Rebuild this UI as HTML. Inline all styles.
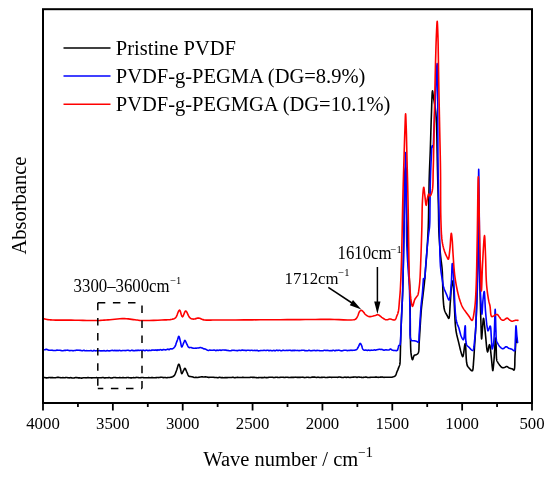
<!DOCTYPE html>
<html><head><meta charset="utf-8"><style>
html,body{margin:0;padding:0;background:#fff;}
svg{display:block;will-change:transform;}
text{font-family:"Liberation Serif",serif;fill:#000;}
</style></head><body>
<svg width="550" height="479" viewBox="0 0 550 479">
<rect x="0" y="0" width="550" height="479" fill="#fff"/>
<g fill="none" stroke-linejoin="round" stroke-linecap="round" stroke-width="1.6">
<polyline stroke="#000" points="43.00,377.70 43.08,377.68 43.29,377.64 43.58,377.59 43.92,377.55 44.25,377.51 44.55,377.51 44.80,377.54 45.06,377.60 45.32,377.67 45.57,377.75 45.83,377.81 46.09,377.86 46.35,377.87 46.61,377.88 46.86,377.87 47.12,377.85 47.38,377.83 47.64,377.80 47.89,377.77 48.15,377.72 48.41,377.66 48.67,377.61 48.92,377.57 49.18,377.54 49.44,377.54 49.70,377.56 49.95,377.58 50.21,377.61 50.47,377.64 50.73,377.65 50.98,377.65 51.24,377.65 51.50,377.64 51.76,377.63 52.02,377.62 52.27,377.62 52.53,377.63 52.79,377.64 53.05,377.66 53.30,377.68 53.56,377.70 53.82,377.71 54.08,377.73 54.33,377.75 54.59,377.77 54.85,377.78 55.11,377.79 55.36,377.77 55.62,377.73 55.88,377.67 56.14,377.60 56.39,377.53 56.65,377.46 56.91,377.42 57.17,377.39 57.42,377.37 57.68,377.36 57.94,377.36 58.20,377.36 58.45,377.37 58.71,377.40 58.97,377.43 59.23,377.47 59.49,377.52 59.74,377.56 60.00,377.60 60.26,377.64 60.51,377.68 60.77,377.72 61.03,377.76 61.28,377.78 61.54,377.79 61.79,377.78 62.05,377.75 62.31,377.70 62.56,377.66 62.82,377.63 63.08,377.61 63.33,377.63 63.59,377.67 63.85,377.72 64.10,377.76 64.36,377.80 64.62,377.80 64.87,377.77 65.13,377.70 65.38,377.62 65.64,377.54 65.90,377.47 66.15,377.44 66.41,377.45 66.67,377.48 66.92,377.53 67.18,377.59 67.44,377.65 67.69,377.69 67.95,377.72 68.20,377.76 68.46,377.80 68.72,377.83 68.97,377.85 69.23,377.85 69.49,377.83 69.74,377.78 70.00,377.72 70.26,377.67 70.51,377.63 70.77,377.63 71.03,377.66 71.28,377.72 71.54,377.80 71.79,377.89 72.05,377.96 72.31,378.01 72.56,378.03 72.82,378.05 73.08,378.06 73.33,378.05 73.59,378.04 73.85,378.01 74.10,377.96 74.36,377.89 74.62,377.80 74.87,377.72 75.13,377.64 75.38,377.60 75.64,377.57 75.90,377.56 76.15,377.56 76.41,377.58 76.67,377.59 76.92,377.62 77.18,377.65 77.44,377.70 77.69,377.76 77.95,377.81 78.20,377.86 78.46,377.90 78.72,377.91 78.97,377.91 79.23,377.90 79.49,377.89 79.74,377.89 80.00,377.90 80.26,377.93 80.51,377.97 80.77,378.02 81.03,378.07 81.28,378.10 81.54,378.11 81.80,378.09 82.05,378.05 82.31,377.99 82.56,377.92 82.82,377.87 83.08,377.83 83.33,377.80 83.59,377.77 83.85,377.76 84.10,377.74 84.36,377.74 84.62,377.74 84.87,377.74 85.13,377.76 85.38,377.79 85.64,377.81 85.90,377.83 86.15,377.83 86.41,377.81 86.67,377.77 86.92,377.73 87.18,377.68 87.44,377.65 87.69,377.63 87.95,377.62 88.20,377.63 88.46,377.65 88.72,377.67 88.97,377.70 89.23,377.71 89.49,377.73 89.74,377.75 90.00,377.77 90.26,377.79 90.51,377.80 90.77,377.82 91.03,377.83 91.28,377.83 91.54,377.84 91.80,377.84 92.05,377.84 92.31,377.84 92.56,377.82 92.82,377.80 93.08,377.77 93.33,377.74 93.59,377.71 93.85,377.70 94.10,377.69 94.36,377.68 94.62,377.69 94.87,377.69 95.13,377.69 95.38,377.69 95.64,377.69 95.90,377.68 96.15,377.67 96.41,377.67 96.67,377.67 96.92,377.67 97.18,377.69 97.44,377.71 97.69,377.73 97.95,377.75 98.21,377.77 98.46,377.79 98.72,377.80 98.97,377.80 99.23,377.81 99.49,377.81 99.74,377.81 100.00,377.80 100.26,377.79 100.51,377.77 100.77,377.75 101.03,377.73 101.28,377.70 101.54,377.68 101.80,377.65 102.05,377.61 102.31,377.57 102.57,377.54 102.82,377.52 103.08,377.53 103.33,377.57 103.59,377.64 103.85,377.73 104.10,377.81 104.36,377.88 104.62,377.92 104.87,377.93 105.13,377.90 105.38,377.87 105.64,377.83 105.90,377.79 106.15,377.77 106.41,377.76 106.67,377.77 106.92,377.79 107.18,377.80 107.44,377.80 107.69,377.79 107.95,377.76 108.21,377.71 108.46,377.65 108.72,377.60 108.98,377.56 109.23,377.55 109.49,377.58 109.74,377.65 110.00,377.73 110.26,377.82 110.51,377.89 110.77,377.94 111.02,377.96 111.28,377.96 111.54,377.94 111.80,377.92 112.05,377.89 112.31,377.86 112.57,377.80 112.82,377.73 113.08,377.65 113.33,377.58 113.59,377.51 113.85,377.47 114.10,377.46 114.36,377.46 114.61,377.48 114.87,377.51 115.13,377.54 115.38,377.56 115.64,377.59 115.90,377.62 116.15,377.66 116.41,377.69 116.67,377.72 116.92,377.74 117.18,377.75 117.44,377.75 117.69,377.75 117.95,377.74 118.21,377.73 118.46,377.72 118.72,377.70 118.98,377.68 119.23,377.65 119.49,377.62 119.75,377.60 120.00,377.60 120.25,377.62 120.50,377.67 120.75,377.72 121.00,377.77 121.25,377.81 121.50,377.82 121.75,377.80 122.00,377.76 122.25,377.70 122.50,377.64 122.75,377.59 123.00,377.57 123.25,377.58 123.50,377.62 123.75,377.66 124.00,377.71 124.25,377.76 124.50,377.78 124.75,377.79 125.00,377.78 125.25,377.77 125.50,377.75 125.75,377.73 126.00,377.71 126.25,377.68 126.50,377.64 126.75,377.60 127.00,377.57 127.25,377.54 127.50,377.53 127.75,377.53 128.00,377.55 128.25,377.58 128.50,377.61 128.75,377.65 129.00,377.67 129.25,377.70 129.50,377.73 129.75,377.76 130.00,377.79 130.25,377.81 130.50,377.83 130.75,377.84 131.00,377.84 131.25,377.84 131.50,377.83 131.75,377.83 132.00,377.81 132.25,377.79 132.50,377.76 132.75,377.73 133.00,377.69 133.25,377.66 133.50,377.65 133.75,377.65 134.00,377.66 134.25,377.68 134.50,377.69 134.75,377.70 135.00,377.69 135.25,377.66 135.50,377.61 135.75,377.55 136.00,377.50 136.25,377.45 136.50,377.42 136.75,377.42 137.00,377.42 137.25,377.44 137.50,377.47 137.75,377.50 138.00,377.53 138.25,377.57 138.50,377.63 138.75,377.69 139.00,377.75 139.25,377.79 139.50,377.81 139.75,377.81 140.00,377.78 140.25,377.75 140.50,377.70 140.75,377.66 141.00,377.63 141.25,377.60 141.50,377.57 141.75,377.55 142.00,377.52 142.25,377.51 142.50,377.51 142.75,377.53 143.00,377.56 143.25,377.60 143.50,377.64 143.75,377.68 144.00,377.70 144.25,377.73 144.50,377.74 144.75,377.76 145.00,377.77 145.25,377.78 145.50,377.79 145.75,377.79 146.00,377.80 146.25,377.80 146.50,377.79 146.75,377.79 147.00,377.78 147.25,377.76 147.50,377.73 147.75,377.70 148.00,377.67 148.25,377.65 148.50,377.63 148.75,377.63 149.00,377.64 149.25,377.66 149.50,377.68 149.75,377.69 150.00,377.70 150.25,377.70 150.50,377.69 150.75,377.68 151.00,377.67 151.25,377.66 151.50,377.65 151.75,377.65 152.00,377.65 152.25,377.65 152.50,377.65 152.75,377.66 153.00,377.66 153.25,377.68 153.50,377.70 153.75,377.73 154.00,377.76 154.25,377.77 154.50,377.78 154.75,377.77 155.00,377.75 155.25,377.72 155.50,377.69 155.75,377.65 156.00,377.63 156.25,377.61 156.50,377.59 156.75,377.58 157.00,377.56 157.25,377.55 157.50,377.55 157.75,377.55 158.00,377.56 158.25,377.57 158.50,377.58 158.75,377.58 159.00,377.57 159.25,377.55 159.50,377.50 159.75,377.45 160.00,377.40 160.25,377.36 160.50,377.32 160.75,377.31 161.00,377.29 161.25,377.28 161.50,377.28 161.75,377.29 162.00,377.31 162.25,377.35 162.50,377.41 162.75,377.47 163.00,377.54 163.25,377.59 163.50,377.62 163.75,377.62 164.00,377.60 164.24,377.57 164.49,377.53 164.75,377.51 165.00,377.50 165.27,377.52 165.55,377.56 165.83,377.61 166.11,377.66 166.39,377.69 166.67,377.71 166.94,377.69 167.22,377.66 167.50,377.61 167.78,377.56 168.06,377.51 168.33,377.48 168.60,377.47 168.87,377.47 169.13,377.47 169.40,377.47 169.69,377.45 170.00,377.40 170.58,377.28 171.24,377.13 171.95,376.93 172.66,376.67 173.32,376.33 173.90,375.90 174.47,375.23 174.95,374.41 175.37,373.48 175.75,372.49 176.12,371.48 176.50,370.50 176.92,369.34 177.32,367.98 177.71,366.60 178.08,365.39 178.45,364.53 178.80,364.20 179.07,364.38 179.33,364.87 179.58,365.57 179.83,366.39 180.07,367.23 180.30,368.00 180.56,368.99 180.79,370.18 181.02,371.40 181.26,372.49 181.51,373.28 181.80,373.60 182.06,373.46 182.34,373.03 182.63,372.42 182.92,371.73 183.22,371.06 183.50,370.50 183.74,370.06 183.97,369.57 184.20,369.09 184.43,368.68 184.66,368.40 184.90,368.30 185.21,368.50 185.52,368.99 185.84,369.68 186.16,370.48 186.48,371.29 186.80,372.00 187.13,372.74 187.46,373.54 187.79,374.36 188.13,375.12 188.49,375.75 188.90,376.20 189.18,376.36 189.47,376.46 189.78,376.50 190.09,376.52 190.40,376.54 190.70,376.58 191.00,376.63 191.30,376.68 191.60,376.73 191.90,376.78 192.20,376.83 192.50,376.90 192.80,376.99 193.11,377.11 193.41,377.23 193.71,377.35 194.00,377.44 194.30,377.50 194.57,377.51 194.83,377.49 195.09,377.46 195.36,377.41 195.62,377.38 195.88,377.36 196.14,377.37 196.41,377.39 196.67,377.42 196.93,377.44 197.20,377.46 197.46,377.46 197.72,377.44 197.99,377.41 198.25,377.36 198.51,377.31 198.78,377.26 199.04,377.22 199.30,377.17 199.57,377.13 199.83,377.08 200.09,377.04 200.36,377.00 200.62,376.96 200.88,376.92 201.15,376.88 201.41,376.85 201.67,376.82 201.94,376.80 202.20,376.80 202.47,376.83 202.73,376.88 203.00,376.94 203.27,377.00 203.53,377.05 203.80,377.07 204.07,377.05 204.33,377.01 204.60,376.96 204.87,376.90 205.13,376.86 205.40,376.84 205.67,376.85 205.93,376.88 206.20,376.92 206.47,376.97 206.73,377.02 207.00,377.07 207.27,377.12 207.53,377.18 207.80,377.24 208.07,377.30 208.33,377.35 208.60,377.38 208.87,377.38 209.13,377.37 209.40,377.34 209.67,377.32 209.93,377.29 210.20,377.28 210.47,377.27 210.73,377.28 211.00,377.28 211.27,377.29 211.53,377.30 211.80,377.30 212.07,377.30 212.33,377.30 212.60,377.29 212.87,377.29 213.13,377.29 213.40,377.30 213.67,377.32 213.94,377.36 214.20,377.40 214.47,377.44 214.74,377.47 215.00,377.50 215.25,377.51 215.50,377.51 215.75,377.51 216.00,377.51 216.25,377.51 216.50,377.52 216.75,377.56 217.00,377.60 217.25,377.66 217.50,377.70 217.75,377.73 218.00,377.73 218.25,377.68 218.50,377.59 218.75,377.48 219.00,377.37 219.25,377.29 219.50,377.25 219.75,377.27 220.00,377.33 220.25,377.42 220.50,377.51 220.75,377.59 221.00,377.64 221.25,377.67 221.50,377.67 221.75,377.67 222.00,377.67 222.25,377.66 222.50,377.66 222.75,377.67 223.00,377.67 223.25,377.68 223.50,377.69 223.75,377.69 224.00,377.69 224.25,377.69 224.50,377.67 224.75,377.66 225.00,377.64 225.25,377.63 225.50,377.62 225.75,377.62 226.00,377.63 226.25,377.64 226.50,377.65 226.75,377.66 227.00,377.65 227.25,377.64 227.50,377.61 227.75,377.58 228.00,377.55 228.25,377.53 228.50,377.51 228.75,377.50 229.00,377.51 229.25,377.52 229.50,377.52 229.75,377.53 230.00,377.53 230.25,377.53 230.50,377.52 230.75,377.51 231.00,377.50 231.25,377.48 231.50,377.46 231.75,377.43 232.00,377.39 232.25,377.34 232.50,377.30 232.75,377.28 233.00,377.28 233.25,377.32 233.50,377.39 233.75,377.48 234.00,377.57 234.25,377.64 234.50,377.69 234.75,377.69 235.00,377.68 235.25,377.65 235.50,377.61 235.75,377.57 236.00,377.53 236.25,377.50 236.50,377.46 236.75,377.42 237.00,377.39 237.25,377.36 237.50,377.35 237.75,377.36 238.00,377.38 238.25,377.42 238.50,377.45 238.75,377.48 239.00,377.50 239.25,377.51 239.50,377.51 239.75,377.51 240.00,377.51 240.25,377.50 240.50,377.49 240.75,377.48 241.00,377.47 241.25,377.46 241.50,377.45 241.75,377.44 242.00,377.43 242.25,377.42 242.50,377.42 242.75,377.42 243.00,377.42 243.25,377.42 243.50,377.42 243.75,377.43 244.00,377.45 244.25,377.47 244.50,377.49 244.75,377.51 245.00,377.52 245.25,377.53 245.50,377.54 245.75,377.55 246.00,377.55 246.25,377.56 246.50,377.56 246.75,377.56 247.00,377.57 247.25,377.57 247.50,377.57 247.75,377.56 248.00,377.56 248.25,377.55 248.50,377.54 248.75,377.53 249.00,377.52 249.25,377.50 249.50,377.48 249.75,377.45 250.00,377.41 250.25,377.36 250.50,377.32 250.75,377.28 251.00,377.26 251.25,377.26 251.50,377.28 251.75,377.30 252.00,377.33 252.25,377.35 252.50,377.36 252.75,377.37 253.00,377.36 253.25,377.35 253.50,377.34 253.75,377.33 254.00,377.34 254.25,377.36 254.50,377.39 254.75,377.43 255.00,377.47 255.25,377.51 255.50,377.54 255.75,377.57 256.00,377.60 256.25,377.63 256.50,377.65 256.75,377.67 257.00,377.68 257.25,377.69 257.50,377.69 257.75,377.68 258.00,377.67 258.25,377.66 258.50,377.65 258.75,377.63 259.00,377.60 259.25,377.56 259.50,377.53 259.75,377.51 260.00,377.50 260.26,377.51 260.51,377.53 260.77,377.56 261.02,377.60 261.28,377.63 261.54,377.64 261.79,377.66 262.05,377.67 262.31,377.67 262.56,377.67 262.82,377.67 263.08,377.65 263.33,377.61 263.59,377.56 263.85,377.49 264.10,377.43 264.36,377.38 264.62,377.37 264.87,377.39 265.13,377.43 265.38,377.50 265.64,377.57 265.90,377.62 266.15,377.66 266.41,377.66 266.67,377.66 266.92,377.65 267.18,377.63 267.44,377.60 267.69,377.57 267.95,377.53 268.21,377.47 268.46,377.41 268.72,377.36 268.97,377.31 269.23,377.27 269.49,377.25 269.74,377.24 270.00,377.23 270.26,377.23 270.51,377.23 270.77,377.23 271.03,377.22 271.28,377.21 271.54,377.20 271.80,377.20 272.05,377.21 272.31,377.23 272.57,377.27 272.82,377.34 273.08,377.43 273.33,377.50 273.59,377.56 273.85,377.59 274.10,377.58 274.36,377.55 274.61,377.49 274.87,377.43 275.13,377.38 275.38,377.34 275.64,377.31 275.90,377.29 276.15,377.27 276.41,377.26 276.67,377.25 276.92,377.26 277.18,377.29 277.44,377.34 277.69,377.39 277.95,377.45 278.20,377.49 278.46,377.52 278.72,377.52 278.97,377.50 279.23,377.47 279.49,377.43 279.74,377.40 280.00,377.37 280.26,377.35 280.51,377.32 280.77,377.29 281.03,377.26 281.28,377.24 281.54,377.23 281.79,377.23 282.05,377.23 282.31,377.23 282.56,377.24 282.82,377.26 283.08,377.27 283.33,377.30 283.59,377.34 283.85,377.38 284.10,377.41 284.36,377.44 284.62,377.45 284.87,377.44 285.13,377.41 285.38,377.37 285.64,377.33 285.90,377.29 286.15,377.27 286.41,377.26 286.67,377.26 286.92,377.27 287.18,377.28 287.44,377.30 287.69,377.32 287.95,377.35 288.21,377.39 288.46,377.44 288.72,377.48 288.97,377.52 289.23,377.53 289.49,377.53 289.74,377.51 290.00,377.48 290.26,377.45 290.51,377.42 290.77,377.40 291.03,377.38 291.28,377.37 291.54,377.35 291.79,377.34 292.05,377.33 292.31,377.33 292.56,377.34 292.82,377.35 293.08,377.38 293.33,377.40 293.59,377.41 293.85,377.40 294.10,377.38 294.36,377.33 294.62,377.28 294.87,377.23 295.13,377.19 295.38,377.17 295.64,377.18 295.90,377.21 296.15,377.25 296.41,377.29 296.67,377.33 296.92,377.35 297.18,377.36 297.44,377.37 297.69,377.37 297.95,377.36 298.21,377.36 298.46,377.36 298.72,377.37 298.98,377.38 299.23,377.39 299.49,377.40 299.74,377.41 300.00,377.40 300.25,377.38 300.50,377.36 300.75,377.32 301.00,377.29 301.25,377.26 301.50,377.24 301.75,377.22 302.00,377.20 302.25,377.18 302.50,377.17 302.75,377.18 303.00,377.19 303.25,377.24 303.50,377.31 303.75,377.40 304.00,377.48 304.25,377.55 304.50,377.58 304.75,377.58 305.00,377.56 305.25,377.52 305.50,377.47 305.75,377.42 306.00,377.39 306.25,377.35 306.50,377.32 306.75,377.28 307.00,377.25 307.25,377.23 307.50,377.23 307.75,377.24 308.00,377.27 308.25,377.31 308.50,377.35 308.75,377.39 309.00,377.42 309.25,377.45 309.50,377.48 309.75,377.51 310.00,377.53 310.25,377.54 310.50,377.52 310.75,377.48 311.00,377.41 311.25,377.33 311.50,377.24 311.75,377.17 312.00,377.12 312.25,377.10 312.50,377.09 312.75,377.09 313.00,377.10 313.25,377.11 313.50,377.11 313.75,377.12 314.00,377.12 314.25,377.13 314.50,377.13 314.75,377.15 315.00,377.17 315.25,377.21 315.50,377.27 315.75,377.34 316.00,377.39 316.25,377.44 316.50,377.45 316.75,377.43 317.00,377.38 317.25,377.31 317.50,377.24 317.75,377.19 318.00,377.17 318.25,377.19 318.50,377.23 318.75,377.29 319.00,377.35 319.25,377.40 319.50,377.44 319.75,377.45 320.00,377.45 320.25,377.45 320.50,377.44 320.75,377.43 321.00,377.42 321.25,377.41 321.50,377.40 321.75,377.39 322.00,377.38 322.25,377.37 322.50,377.35 322.75,377.32 323.00,377.28 323.25,377.24 323.50,377.20 323.75,377.18 324.00,377.18 324.25,377.22 324.50,377.28 324.75,377.36 325.00,377.44 325.25,377.51 325.50,377.55 325.75,377.56 326.00,377.56 326.25,377.54 326.50,377.51 326.75,377.48 327.00,377.46 327.25,377.44 327.50,377.41 327.75,377.39 328.00,377.36 328.25,377.34 328.50,377.31 328.75,377.28 329.00,377.25 329.25,377.22 329.50,377.19 329.75,377.17 330.00,377.16 330.25,377.18 330.50,377.22 330.75,377.26 331.00,377.31 331.25,377.35 331.50,377.37 331.75,377.36 332.00,377.34 332.25,377.31 332.50,377.28 332.75,377.25 333.00,377.24 333.25,377.24 333.50,377.26 333.75,377.28 334.00,377.30 334.25,377.32 334.50,377.32 334.75,377.31 335.00,377.28 335.25,377.25 335.50,377.22 335.75,377.20 336.00,377.19 336.25,377.20 336.50,377.24 336.75,377.28 337.00,377.31 337.25,377.34 337.50,377.34 337.75,377.31 338.00,377.26 338.25,377.20 338.50,377.13 338.75,377.08 339.00,377.05 339.25,377.04 339.50,377.05 339.75,377.07 340.00,377.10 340.25,377.13 340.50,377.16 340.75,377.21 341.00,377.27 341.25,377.34 341.50,377.40 341.75,377.46 342.00,377.49 342.25,377.51 342.50,377.51 342.75,377.51 343.00,377.49 343.25,377.47 343.50,377.44 343.75,377.40 344.00,377.34 344.25,377.28 344.50,377.22 344.75,377.17 345.00,377.15 345.25,377.17 345.50,377.22 345.75,377.29 346.00,377.35 346.25,377.40 346.50,377.42 346.75,377.40 347.00,377.35 347.25,377.28 347.50,377.22 347.75,377.16 348.00,377.15 348.25,377.17 348.50,377.22 348.75,377.29 349.00,377.36 349.25,377.42 349.50,377.45 349.75,377.46 350.00,377.45 350.25,377.43 350.50,377.41 350.75,377.38 351.00,377.35 351.25,377.33 351.50,377.30 351.75,377.27 352.00,377.24 352.25,377.21 352.50,377.18 352.75,377.16 353.00,377.15 353.25,377.14 353.50,377.13 353.75,377.11 354.00,377.10 354.25,377.07 354.50,377.04 354.75,377.00 355.00,376.97 355.25,376.96 355.50,376.97 355.75,377.02 356.00,377.10 356.25,377.20 356.50,377.30 356.75,377.37 357.00,377.40 357.25,377.37 357.50,377.30 357.75,377.20 358.00,377.10 358.25,377.02 358.50,376.97 358.75,376.98 359.00,377.00 359.25,377.05 359.50,377.11 359.75,377.16 360.00,377.20 360.25,377.23 360.50,377.26 360.75,377.29 361.00,377.32 361.25,377.34 361.50,377.36 361.75,377.39 362.00,377.41 362.25,377.43 362.50,377.44 362.75,377.44 363.00,377.44 363.25,377.42 363.50,377.40 363.75,377.36 364.00,377.32 364.25,377.29 364.50,377.25 364.75,377.21 365.00,377.17 365.25,377.12 365.50,377.08 365.75,377.06 366.00,377.06 366.25,377.09 366.50,377.14 366.75,377.22 367.00,377.29 367.25,377.36 367.50,377.41 367.75,377.44 368.00,377.46 368.25,377.47 368.50,377.47 368.75,377.47 369.00,377.47 369.25,377.46 369.50,377.44 369.75,377.41 370.00,377.38 370.25,377.36 370.50,377.34 370.75,377.32 371.00,377.30 371.25,377.29 371.50,377.27 371.75,377.26 372.00,377.24 372.25,377.23 372.50,377.22 372.75,377.21 373.00,377.20 373.25,377.19 373.50,377.18 373.75,377.18 374.00,377.18 374.25,377.18 374.50,377.18 374.75,377.18 375.00,377.17 375.25,377.16 375.50,377.14 375.75,377.13 376.00,377.11 376.25,377.10 376.50,377.11 376.75,377.13 377.00,377.18 377.25,377.23 377.50,377.28 377.75,377.32 378.00,377.35 378.25,377.35 378.50,377.33 378.75,377.31 379.00,377.28 379.25,377.25 379.50,377.23 379.75,377.21 380.00,377.19 380.25,377.17 380.50,377.15 380.75,377.13 381.00,377.12 381.25,377.10 381.50,377.09 381.75,377.07 382.00,377.06 382.25,377.06 382.50,377.08 382.75,377.11 383.00,377.17 383.25,377.23 383.50,377.29 383.75,377.34 384.00,377.36 384.25,377.36 384.50,377.33 384.75,377.28 385.00,377.24 385.25,377.20 385.50,377.18 385.75,377.19 386.00,377.20 386.25,377.23 386.50,377.26 386.75,377.28 387.00,377.29 387.25,377.29 387.50,377.27 387.75,377.25 388.00,377.23 388.25,377.21 388.50,377.21 388.74,377.22 388.97,377.24 389.21,377.27 389.45,377.29 389.71,377.31 390.00,377.30 390.58,377.26 391.27,377.19 392.01,377.09 392.75,376.96 393.43,376.80 394.00,376.60 394.33,376.45 394.63,376.28 394.90,376.10 395.15,375.90 395.38,375.66 395.60,375.40 395.84,375.01 396.04,374.55 396.21,374.05 396.36,373.52 396.52,373.00 396.70,372.50 396.90,372.02 397.10,371.53 397.30,371.05 397.50,370.57 397.70,370.08 397.90,369.60 398.09,369.11 398.28,368.62 398.47,368.13 398.65,367.64 398.83,367.16 399.00,366.70 399.15,366.33 399.29,365.99 399.44,365.65 399.57,365.31 399.69,364.93 399.80,364.50 399.93,363.72 400.02,362.85 400.08,361.90 400.12,360.89 400.15,359.81 400.20,358.70 400.27,357.01 400.32,355.16 400.37,353.19 400.41,351.18 400.45,349.16 400.50,347.20 400.55,345.32 400.59,343.49 400.63,341.66 400.68,339.78 400.74,337.81 400.80,335.70 400.90,332.62 401.02,329.32 401.16,325.85 401.30,322.27 401.45,318.63 401.60,315.00 401.78,311.09 401.97,307.24 402.17,303.32 402.38,299.22 402.57,294.82 402.75,290.00 402.99,281.51 403.21,271.95 403.40,261.68 403.59,251.03 403.79,240.36 404.00,230.00 404.16,218.40 404.24,205.16 404.33,191.89 404.51,180.20 404.87,171.70 405.50,168.00 405.57,167.95 405.63,167.92 405.70,167.91 405.77,167.92 405.84,167.95 405.90,168.00 406.30,169.96 406.46,174.27 406.46,180.18 406.40,186.94 406.35,193.79 406.40,200.00 406.56,206.52 406.75,213.35 406.96,220.31 407.18,227.20 407.40,233.82 407.60,240.00 407.75,244.54 407.89,248.87 408.03,253.04 408.18,257.09 408.33,261.06 408.50,265.00 408.67,268.42 408.87,271.68 409.07,274.89 409.26,278.12 409.45,281.46 409.60,285.00 409.75,289.67 409.87,294.60 409.97,299.71 410.05,304.88 410.13,310.01 410.20,315.00 410.26,319.73 410.29,324.56 410.31,329.34 410.34,333.96 410.40,338.29 410.50,342.20 410.57,344.61 410.64,346.90 410.72,349.05 410.83,351.06 410.99,352.92 411.20,354.60 411.37,355.68 411.56,356.80 411.77,357.86 412.00,358.74 412.24,359.36 412.50,359.60 412.74,359.36 412.97,358.73 413.22,357.87 413.50,356.93 413.82,356.09 414.20,355.50 414.54,355.25 414.92,355.10 415.33,354.99 415.74,354.90 416.14,354.78 416.50,354.60 416.84,354.38 417.17,354.15 417.49,353.89 417.79,353.60 418.06,353.24 418.30,352.80 418.66,351.64 418.87,350.17 418.97,348.44 419.02,346.50 419.08,344.41 419.20,342.20 419.51,337.70 419.83,332.31 420.18,326.43 420.54,320.48 420.92,314.86 421.30,310.00 421.57,307.16 421.85,304.54 422.14,302.08 422.43,299.71 422.72,297.37 423.00,295.00 423.26,292.77 423.52,290.58 423.78,288.41 424.04,286.26 424.28,284.13 424.50,282.00 424.69,280.01 424.86,278.08 425.02,276.16 425.17,274.21 425.33,272.17 425.50,270.00 425.74,266.98 425.99,263.78 426.25,260.43 426.51,256.99 426.76,253.50 427.00,250.00 427.25,246.14 427.49,242.20 427.72,238.20 427.94,234.15 428.13,230.08 428.30,226.00 428.43,221.72 428.53,217.37 428.60,213.00 428.66,208.63 428.73,204.29 428.80,200.00 428.88,195.96 428.95,191.96 429.02,188.00 429.10,184.04 429.19,180.04 429.30,176.00 429.44,171.77 429.60,167.55 429.77,163.31 429.95,158.99 430.13,154.57 430.30,150.00 430.48,144.39 430.66,138.48 430.84,132.42 431.02,126.38 431.20,120.52 431.40,115.00 431.56,110.17 431.72,104.85 431.88,99.67 432.06,95.21 432.26,92.08 432.50,90.90 432.63,91.20 432.77,91.99 432.92,93.13 433.07,94.45 433.23,95.79 433.40,97.00 433.61,98.26 433.85,99.55 434.09,100.88 434.34,102.23 434.58,103.60 434.80,105.00 435.03,106.58 435.25,108.17 435.46,109.80 435.66,111.47 435.84,113.20 436.00,115.00 436.17,117.30 436.31,119.69 436.42,122.17 436.52,124.73 436.61,127.34 436.70,130.00 436.79,133.17 436.87,136.45 436.93,139.82 436.98,143.23 437.04,146.63 437.10,150.00 437.17,153.33 437.23,156.67 437.29,160.00 437.36,163.33 437.43,166.67 437.50,170.00 437.58,173.33 437.66,176.67 437.74,180.00 437.83,183.33 437.92,186.67 438.00,190.00 438.08,193.32 438.17,196.63 438.26,199.94 438.34,203.26 438.42,206.61 438.50,210.00 438.56,213.60 438.60,217.24 438.64,220.91 438.69,224.59 438.77,228.29 438.90,232.00 439.09,235.86 439.32,239.81 439.59,243.78 439.88,247.68 440.19,251.45 440.50,255.00 440.78,257.69 441.08,260.24 441.40,262.70 441.71,265.12 441.98,267.53 442.20,270.00 442.35,272.50 442.45,275.01 442.52,277.53 442.58,280.03 442.63,282.53 442.70,285.00 442.77,287.39 442.82,289.79 442.88,292.18 442.95,294.53 443.05,296.85 443.20,299.10 443.35,301.11 443.50,303.12 443.67,305.10 443.90,307.00 444.20,308.78 444.60,310.40 444.99,311.50 445.45,312.53 445.96,313.50 446.47,314.40 446.96,315.23 447.40,316.00 447.66,316.52 447.91,317.08 448.15,317.60 448.38,318.03 448.60,318.32 448.80,318.40 449.18,317.60 449.46,315.65 449.68,312.92 449.85,309.78 450.01,306.62 450.20,303.80 450.41,300.97 450.61,297.97 450.80,294.94 450.98,292.01 451.18,289.32 451.40,287.00 451.54,285.68 451.68,284.33 451.83,283.06 451.98,282.00 452.14,281.27 452.30,281.00 452.49,281.31 452.70,282.16 452.91,283.39 453.12,284.87 453.32,286.45 453.50,288.00 453.74,290.78 453.92,294.01 454.06,297.54 454.19,301.23 454.33,304.93 454.50,308.50 454.68,312.12 454.85,315.85 455.02,319.59 455.23,323.25 455.52,326.75 455.90,330.00 456.28,332.31 456.72,334.49 457.20,336.57 457.70,338.59 458.21,340.59 458.70,342.60 459.16,344.59 459.64,346.66 460.12,348.71 460.59,350.64 461.06,352.37 461.50,353.80 461.72,354.47 461.95,355.14 462.16,355.76 462.38,356.26 462.59,356.59 462.80,356.70 463.23,355.68 463.66,353.22 464.07,350.05 464.47,346.89 464.85,344.46 465.20,343.50 465.54,344.85 465.77,348.29 465.97,352.91 466.21,357.85 466.56,362.21 467.10,365.10 467.37,365.76 467.66,366.28 467.97,366.71 468.30,367.10 468.64,367.48 469.00,367.90 469.44,368.45 469.94,369.05 470.45,369.66 470.96,370.19 471.42,370.59 471.80,370.80 471.94,370.83 472.06,370.84 472.18,370.82 472.29,370.78 472.40,370.70 472.50,370.60 472.81,369.86 473.04,368.59 473.21,366.94 473.34,365.08 473.46,363.15 473.60,361.30 473.79,358.92 473.97,356.37 474.13,353.70 474.28,350.98 474.44,348.26 474.60,345.60 474.77,343.06 474.94,340.58 475.11,338.11 475.27,335.57 475.44,332.89 475.60,330.00 475.82,325.61 476.03,320.88 476.23,315.88 476.43,310.68 476.62,305.36 476.80,300.00 476.99,293.56 477.16,286.75 477.32,279.77 477.47,272.85 477.63,266.19 477.80,260.00 477.95,254.92 478.10,249.38 478.25,244.01 478.41,239.41 478.56,236.20 478.70,235.00 478.85,236.50 478.98,240.47 479.12,246.11 479.24,252.61 479.37,259.17 479.50,265.00 479.64,270.75 479.77,276.68 479.90,282.70 480.03,288.67 480.17,294.48 480.30,300.00 480.41,304.49 480.53,308.91 480.64,313.22 480.76,317.36 480.88,321.30 481.00,325.00 481.09,327.87 481.18,330.96 481.27,333.94 481.36,336.47 481.47,338.24 481.60,338.90 481.72,338.46 481.84,337.30 481.97,335.64 482.11,333.72 482.25,331.76 482.40,330.00 482.57,327.87 482.74,325.35 482.92,322.79 483.11,320.53 483.30,318.92 483.50,318.30 483.66,318.62 483.83,319.49 484.00,320.72 484.17,322.17 484.34,323.65 484.50,325.00 484.67,326.52 484.83,328.09 484.98,329.71 485.14,331.40 485.31,333.16 485.50,335.00 485.79,337.95 486.10,341.55 486.44,345.27 486.80,348.58 487.19,350.97 487.60,351.90 487.90,351.37 488.22,350.02 488.55,348.25 488.88,346.49 489.20,345.13 489.50,344.60 489.85,345.26 490.18,346.97 490.49,349.37 490.78,352.10 491.05,354.79 491.30,357.10 491.50,358.96 491.68,360.86 491.85,362.74 492.00,364.52 492.15,366.13 492.30,367.50 492.38,368.20 492.47,368.90 492.55,369.55 492.63,370.10 492.71,370.46 492.80,370.60 492.97,370.15 493.16,368.97 493.35,367.26 493.54,365.27 493.73,363.21 493.90,361.30 494.10,358.86 494.28,356.16 494.45,353.36 494.61,350.57 494.76,347.94 494.90,345.60 494.99,344.00 495.07,342.30 495.15,340.68 495.22,339.31 495.31,338.36 495.40,338.00 495.51,338.32 495.62,339.19 495.75,340.46 495.87,341.95 495.99,343.51 496.10,345.00 496.21,347.36 496.26,350.16 496.31,353.12 496.38,355.96 496.53,358.42 496.80,360.20 496.94,360.67 497.08,361.05 497.24,361.37 497.41,361.66 497.60,361.96 497.80,362.30 498.09,362.80 498.42,363.33 498.77,363.87 499.15,364.41 499.52,364.92 499.90,365.40 500.23,365.81 500.56,366.23 500.89,366.62 501.24,366.98 501.61,367.28 502.00,367.50 502.40,367.62 502.84,367.68 503.29,367.69 503.74,367.65 504.18,367.58 504.60,367.50 504.97,367.36 505.32,367.16 505.66,366.92 506.00,366.71 506.34,366.55 506.70,366.50 507.12,366.59 507.54,366.81 507.96,367.11 508.40,367.44 508.84,367.75 509.30,368.00 509.81,368.19 510.35,368.36 510.90,368.51 511.44,368.65 511.95,368.81 512.40,369.00 512.71,369.21 513.01,369.47 513.28,369.75 513.54,369.98 513.78,370.11 514.00,370.10 514.45,369.20 514.69,367.27 514.81,364.65 514.85,361.68 514.89,358.68 515.00,356.00 515.16,353.29 515.31,350.35 515.46,347.39 515.61,344.62 515.79,342.22 516.00,340.40 516.09,339.82 516.19,339.26 516.30,338.76 516.40,338.36 516.50,338.09 516.60,338.00 516.74,338.34 516.89,339.17 517.05,340.25 517.17,341.33 517.27,342.17 517.30,342.50"/>
<polyline stroke="#0000ff" points="43.00,349.20 43.05,349.23 43.18,349.30 43.37,349.39 43.59,349.50 43.81,349.59 44.00,349.66 44.16,349.71 44.33,349.75 44.50,349.78 44.67,349.80 44.84,349.81 45.00,349.79 45.17,349.74 45.34,349.65 45.50,349.55 45.66,349.45 45.83,349.36 46.00,349.31 46.16,349.30 46.33,349.31 46.50,349.34 46.67,349.38 46.83,349.42 47.00,349.47 47.17,349.53 47.34,349.60 47.50,349.67 47.67,349.75 47.83,349.83 48.00,349.90 48.17,349.96 48.33,350.03 48.50,350.09 48.66,350.15 48.83,350.20 49.00,350.23 49.17,350.26 49.33,350.27 49.50,350.27 49.67,350.26 49.83,350.26 50.00,350.27 50.17,350.28 50.33,350.29 50.50,350.30 50.67,350.32 50.83,350.32 51.00,350.32 51.17,350.30 51.33,350.27 51.50,350.23 51.67,350.20 51.83,350.17 52.00,350.17 52.17,350.18 52.33,350.22 52.50,350.27 52.67,350.32 52.83,350.37 53.00,350.40 53.17,350.42 53.33,350.44 53.50,350.45 53.67,350.45 53.83,350.46 54.00,350.46 54.17,350.46 54.33,350.46 54.50,350.46 54.67,350.45 54.83,350.45 55.00,350.45 55.17,350.44 55.33,350.45 55.50,350.45 55.67,350.45 55.83,350.44 56.00,350.41 56.17,350.37 56.33,350.31 56.50,350.25 56.67,350.18 56.83,350.13 57.00,350.10 57.17,350.11 57.33,350.14 57.50,350.18 57.67,350.22 57.83,350.26 58.00,350.28 58.17,350.28 58.33,350.28 58.50,350.27 58.67,350.25 58.83,350.24 59.00,350.24 59.17,350.24 59.33,350.25 59.50,350.26 59.67,350.27 59.83,350.28 60.00,350.30 60.17,350.32 60.33,350.35 60.50,350.38 60.67,350.42 60.83,350.45 61.00,350.49 61.17,350.52 61.33,350.57 61.50,350.61 61.67,350.65 61.83,350.68 62.00,350.71 62.17,350.72 62.33,350.73 62.50,350.73 62.67,350.73 62.83,350.72 63.00,350.70 63.17,350.67 63.33,350.63 63.50,350.58 63.67,350.53 63.83,350.48 64.00,350.45 64.17,350.43 64.33,350.42 64.50,350.42 64.67,350.42 64.83,350.42 65.00,350.41 65.17,350.40 65.33,350.39 65.50,350.37 65.67,350.35 65.83,350.34 66.00,350.32 66.17,350.30 66.33,350.27 66.50,350.24 66.67,350.22 66.83,350.20 67.00,350.19 67.17,350.18 67.33,350.17 67.50,350.17 67.67,350.17 67.83,350.19 68.00,350.21 68.17,350.25 68.33,350.31 68.50,350.38 68.67,350.44 68.83,350.50 69.00,350.55 69.17,350.57 69.33,350.59 69.50,350.60 69.67,350.61 69.83,350.61 70.00,350.60 70.17,350.59 70.33,350.56 70.50,350.53 70.67,350.50 70.83,350.47 71.00,350.45 71.17,350.44 71.33,350.44 71.50,350.44 71.67,350.44 71.83,350.45 72.00,350.48 72.17,350.52 72.34,350.59 72.50,350.66 72.67,350.74 72.83,350.79 73.00,350.81 73.17,350.80 73.33,350.76 73.50,350.70 73.66,350.63 73.83,350.57 74.00,350.54 74.17,350.53 74.33,350.53 74.50,350.54 74.67,350.55 74.83,350.55 75.00,350.54 75.17,350.51 75.33,350.48 75.50,350.43 75.67,350.38 75.83,350.33 76.00,350.30 76.17,350.26 76.33,350.22 76.50,350.18 76.67,350.15 76.83,350.13 77.00,350.13 77.17,350.14 77.33,350.18 77.50,350.22 77.67,350.27 77.83,350.30 78.00,350.32 78.17,350.31 78.33,350.28 78.50,350.24 78.67,350.20 78.83,350.17 79.00,350.17 79.17,350.18 79.33,350.22 79.50,350.27 79.67,350.32 79.83,350.37 80.00,350.40 80.17,350.41 80.33,350.41 80.50,350.40 80.67,350.40 80.83,350.40 81.00,350.42 81.17,350.47 81.33,350.54 81.50,350.62 81.67,350.69 81.83,350.75 82.00,350.78 82.17,350.78 82.33,350.75 82.50,350.71 82.67,350.67 82.83,350.62 83.00,350.57 83.17,350.51 83.34,350.44 83.50,350.36 83.67,350.29 83.84,350.25 84.00,350.24 84.17,350.28 84.33,350.37 84.50,350.48 84.66,350.59 84.83,350.69 85.00,350.75 85.16,350.77 85.33,350.77 85.50,350.76 85.66,350.73 85.83,350.71 86.00,350.70 86.17,350.69 86.33,350.68 86.50,350.67 86.67,350.67 86.83,350.66 87.00,350.67 87.17,350.68 87.33,350.71 87.50,350.74 87.67,350.77 87.83,350.79 88.00,350.80 88.17,350.80 88.33,350.79 88.50,350.77 88.67,350.75 88.83,350.73 89.00,350.72 89.17,350.72 89.33,350.73 89.50,350.75 89.67,350.76 89.83,350.76 90.00,350.75 90.17,350.72 90.34,350.65 90.50,350.58 90.67,350.52 90.84,350.47 91.00,350.46 91.17,350.50 91.33,350.57 91.50,350.67 91.66,350.77 91.83,350.86 92.00,350.92 92.16,350.95 92.33,350.97 92.50,350.97 92.67,350.97 92.84,350.95 93.00,350.92 93.17,350.85 93.34,350.74 93.50,350.62 93.67,350.50 93.83,350.41 94.00,350.37 94.16,350.39 94.33,350.46 94.50,350.56 94.66,350.66 94.83,350.75 95.00,350.80 95.16,350.83 95.33,350.84 95.50,350.83 95.67,350.82 95.83,350.81 96.00,350.79 96.17,350.77 96.33,350.74 96.50,350.70 96.67,350.67 96.83,350.64 97.00,350.63 97.17,350.63 97.33,350.64 97.50,350.65 97.67,350.67 97.83,350.68 98.00,350.69 98.17,350.69 98.33,350.69 98.50,350.69 98.67,350.68 98.83,350.68 99.00,350.68 99.17,350.68 99.33,350.67 99.50,350.67 99.67,350.67 99.83,350.68 100.00,350.70 100.17,350.74 100.33,350.80 100.50,350.86 100.67,350.93 100.83,350.97 101.00,350.99 101.17,350.96 101.33,350.91 101.50,350.84 101.67,350.77 101.83,350.71 102.00,350.68 102.17,350.69 102.33,350.74 102.50,350.79 102.67,350.85 102.83,350.89 103.00,350.90 103.17,350.87 103.33,350.80 103.50,350.72 103.67,350.64 103.83,350.58 104.00,350.56 104.17,350.58 104.33,350.64 104.50,350.72 104.66,350.80 104.83,350.87 105.00,350.92 105.17,350.94 105.33,350.96 105.50,350.96 105.67,350.95 105.83,350.94 106.00,350.92 106.17,350.88 106.33,350.82 106.50,350.76 106.67,350.69 106.83,350.64 107.00,350.60 107.17,350.59 107.33,350.59 107.50,350.60 107.67,350.62 107.83,350.64 108.00,350.67 108.17,350.70 108.33,350.75 108.50,350.80 108.67,350.85 108.83,350.89 109.00,350.90 109.17,350.90 109.33,350.88 109.50,350.86 109.67,350.82 109.83,350.79 110.00,350.76 110.17,350.73 110.33,350.70 110.50,350.67 110.67,350.64 110.83,350.61 111.00,350.58 111.17,350.55 111.33,350.51 111.50,350.47 111.67,350.43 111.83,350.40 112.00,350.39 112.17,350.38 112.33,350.38 112.50,350.39 112.67,350.40 112.83,350.42 113.00,350.45 113.17,350.49 113.34,350.54 113.50,350.60 113.67,350.65 113.83,350.69 114.00,350.70 114.17,350.66 114.34,350.59 114.50,350.49 114.67,350.40 114.83,350.34 115.00,350.32 115.17,350.36 115.33,350.45 115.50,350.57 115.67,350.69 115.83,350.79 116.00,350.83 116.17,350.79 116.33,350.71 116.50,350.60 116.67,350.49 116.83,350.40 117.00,350.37 117.17,350.40 117.33,350.48 117.50,350.59 117.67,350.69 117.83,350.77 118.00,350.81 118.17,350.78 118.33,350.71 118.50,350.61 118.66,350.51 118.83,350.43 119.00,350.38 119.16,350.36 119.33,350.37 119.50,350.39 119.67,350.43 119.83,350.46 120.00,350.50 120.17,350.55 120.33,350.61 120.50,350.68 120.67,350.74 120.83,350.79 121.00,350.82 121.17,350.81 121.33,350.79 121.50,350.76 121.67,350.71 121.83,350.67 122.00,350.64 122.17,350.61 122.33,350.58 122.50,350.55 122.67,350.53 122.83,350.51 123.00,350.49 123.17,350.48 123.33,350.48 123.50,350.48 123.67,350.49 123.83,350.49 124.00,350.50 124.17,350.51 124.33,350.53 124.50,350.55 124.67,350.57 124.83,350.58 125.00,350.59 125.17,350.59 125.33,350.59 125.50,350.58 125.67,350.57 125.83,350.56 126.00,350.54 126.17,350.52 126.33,350.48 126.50,350.45 126.67,350.41 126.83,350.37 127.00,350.34 127.17,350.32 127.33,350.30 127.50,350.28 127.67,350.27 127.83,350.26 128.00,350.27 128.17,350.29 128.33,350.31 128.50,350.35 128.67,350.39 128.83,350.44 129.00,350.48 129.17,350.53 129.33,350.59 129.50,350.65 129.67,350.71 129.83,350.75 130.00,350.77 130.17,350.76 130.33,350.74 130.50,350.70 130.67,350.65 130.83,350.60 131.00,350.55 131.17,350.48 131.34,350.40 131.50,350.31 131.67,350.23 131.83,350.18 132.00,350.16 132.17,350.20 132.33,350.29 132.50,350.40 132.66,350.52 132.83,350.62 133.00,350.68 133.16,350.70 133.33,350.69 133.50,350.67 133.66,350.64 133.83,350.62 134.00,350.61 134.17,350.63 134.34,350.66 134.50,350.70 134.67,350.73 134.84,350.75 135.00,350.74 135.17,350.68 135.34,350.58 135.50,350.47 135.67,350.36 135.83,350.27 136.00,350.23 136.17,350.25 136.33,350.33 136.50,350.42 136.67,350.52 136.83,350.59 137.00,350.61 137.17,350.57 137.33,350.49 137.50,350.37 137.67,350.26 137.83,350.17 138.00,350.13 138.17,350.16 138.33,350.23 138.50,350.33 138.66,350.42 138.83,350.50 139.00,350.54 139.17,350.53 139.33,350.49 139.50,350.44 139.66,350.37 139.83,350.31 140.00,350.27 140.17,350.25 140.33,350.23 140.50,350.21 140.67,350.21 140.84,350.22 141.00,350.24 141.17,350.30 141.34,350.39 141.50,350.49 141.67,350.59 141.83,350.66 142.00,350.69 142.17,350.65 142.33,350.55 142.50,350.43 142.66,350.30 142.83,350.20 143.00,350.15 143.16,350.15 143.33,350.19 143.50,350.25 143.66,350.31 143.83,350.38 144.00,350.44 144.17,350.48 144.33,350.54 144.50,350.59 144.67,350.64 144.83,350.66 145.00,350.66 145.17,350.63 145.33,350.56 145.50,350.47 145.66,350.37 145.83,350.29 146.00,350.23 146.16,350.20 146.33,350.18 146.50,350.17 146.67,350.17 146.84,350.18 147.00,350.21 147.17,350.26 147.34,350.35 147.50,350.46 147.67,350.56 147.83,350.64 148.00,350.67 148.17,350.66 148.33,350.61 148.50,350.54 148.66,350.46 148.83,350.39 149.00,350.35 149.17,350.34 149.33,350.34 149.50,350.35 149.67,350.37 149.83,350.38 150.00,350.40 150.17,350.42 150.34,350.45 150.50,350.49 150.67,350.52 150.84,350.53 151.00,350.51 151.17,350.45 151.34,350.36 151.50,350.25 151.66,350.14 151.83,350.04 152.00,349.99 152.16,349.99 152.33,350.02 152.50,350.07 152.66,350.12 152.83,350.17 153.00,350.18 153.17,350.17 153.33,350.14 153.50,350.09 153.67,350.05 153.83,350.02 154.00,350.01 154.17,350.04 154.34,350.11 154.50,350.18 154.67,350.25 154.83,350.31 155.00,350.32 155.17,350.28 155.34,350.19 155.50,350.08 155.67,349.97 155.83,349.89 156.00,349.87 156.17,349.92 156.34,350.03 156.50,350.16 156.67,350.30 156.84,350.40 157.00,350.44 157.17,350.38 157.33,350.26 157.50,350.10 157.66,349.94 157.83,349.81 158.00,349.75 158.16,349.77 158.33,349.85 158.50,349.97 158.67,350.08 158.83,350.17 159.00,350.20 159.17,350.16 159.33,350.07 159.50,349.95 159.66,349.83 159.83,349.73 160.00,349.66 160.16,349.65 160.33,349.65 160.50,349.68 160.67,349.71 160.83,349.75 161.00,349.79 161.17,349.84 161.34,349.92 161.50,350.00 161.67,350.08 161.84,350.13 162.00,350.14 162.17,350.10 162.33,350.02 162.50,349.91 162.66,349.80 162.83,349.70 163.00,349.64 163.16,349.61 163.33,349.59 163.50,349.59 163.67,349.59 163.83,349.61 164.00,349.62 164.17,349.64 164.33,349.67 164.50,349.71 164.67,349.74 164.83,349.78 165.00,349.80 165.17,349.82 165.33,349.83 165.50,349.84 165.67,349.84 165.83,349.84 166.00,349.82 166.17,349.79 166.34,349.74 166.50,349.68 166.67,349.62 166.83,349.55 167.00,349.49 167.17,349.42 167.33,349.34 167.50,349.26 167.67,349.19 167.84,349.15 168.00,349.14 168.17,349.19 168.34,349.30 168.50,349.43 168.67,349.56 168.84,349.65 169.00,349.69 169.17,349.64 169.33,349.53 169.50,349.38 169.66,349.23 169.83,349.09 170.00,348.98 170.16,348.92 170.33,348.87 170.49,348.84 170.66,348.81 170.83,348.79 171.00,348.79 171.16,348.81 171.32,348.87 171.48,348.93 171.64,348.99 171.81,349.02 172.00,349.00 172.44,348.82 172.96,348.49 173.52,348.06 174.08,347.56 174.58,347.03 175.00,346.50 175.31,345.97 175.54,345.40 175.73,344.80 175.90,344.19 176.07,343.58 176.27,342.99 176.48,342.45 176.69,341.91 176.90,341.38 177.11,340.86 177.32,340.32 177.53,339.78 177.75,339.13 177.96,338.37 178.17,337.61 178.38,336.95 178.59,336.48 178.80,336.30 179.05,336.54 179.30,337.15 179.56,338.03 179.81,339.04 180.06,340.07 180.30,341.00 180.56,342.09 180.80,343.37 181.05,344.68 181.29,345.83 181.54,346.66 181.80,347.00 181.97,346.91 182.14,346.65 182.32,346.27 182.49,345.83 182.67,345.38 182.83,344.97 183.01,344.55 183.18,344.10 183.35,343.64 183.52,343.19 183.69,342.75 183.87,342.33 184.03,341.94 184.19,341.52 184.36,341.10 184.53,340.74 184.71,340.49 184.90,340.40 185.18,340.59 185.48,341.07 185.80,341.76 186.13,342.54 186.47,343.32 186.80,344.00 187.14,344.64 187.48,345.34 187.83,346.03 188.19,346.67 188.54,347.17 188.90,347.50 189.09,347.58 189.27,347.61 189.46,347.61 189.65,347.59 189.84,347.57 190.02,347.56 190.21,347.55 190.40,347.54 190.59,347.52 190.78,347.50 190.96,347.50 191.15,347.52 191.34,347.57 191.53,347.65 191.71,347.74 191.90,347.83 192.09,347.92 192.28,347.99 192.46,348.04 192.65,348.08 192.84,348.12 193.03,348.15 193.22,348.17 193.40,348.20 193.57,348.22 193.74,348.24 193.91,348.26 194.08,348.28 194.25,348.28 194.41,348.29 194.58,348.28 194.75,348.26 194.92,348.23 195.09,348.21 195.26,348.18 195.43,348.17 195.60,348.17 195.77,348.17 195.94,348.18 196.11,348.19 196.27,348.19 196.44,348.18 196.61,348.16 196.78,348.12 196.95,348.08 197.12,348.04 197.29,348.00 197.46,347.98 197.63,347.97 197.79,347.96 197.96,347.97 198.13,347.97 198.30,347.97 198.47,347.95 198.64,347.93 198.81,347.90 198.98,347.86 199.15,347.82 199.32,347.78 199.49,347.74 199.66,347.70 199.82,347.64 199.99,347.59 200.16,347.54 200.33,347.51 200.50,347.50 200.67,347.53 200.84,347.58 201.01,347.65 201.18,347.73 201.34,347.81 201.51,347.87 201.68,347.91 201.85,347.93 202.03,347.96 202.20,347.98 202.36,348.02 202.53,348.08 202.70,348.17 202.87,348.29 203.04,348.43 203.20,348.56 203.37,348.68 203.54,348.77 203.71,348.82 203.88,348.85 204.05,348.87 204.22,348.88 204.39,348.89 204.56,348.91 204.73,348.94 204.90,348.97 205.07,349.01 205.24,349.04 205.41,349.09 205.57,349.15 205.74,349.23 205.91,349.34 206.08,349.45 206.25,349.57 206.42,349.68 206.59,349.78 206.75,349.86 206.92,349.94 207.09,350.01 207.26,350.08 207.43,350.14 207.60,350.20 207.77,350.26 207.95,350.33 208.13,350.39 208.31,350.45 208.48,350.48 208.66,350.48 208.84,350.43 209.01,350.33 209.19,350.22 209.36,350.10 209.54,350.01 209.71,349.97 209.89,349.98 210.06,350.04 210.24,350.11 210.42,350.19 210.59,350.26 210.77,350.30 210.95,350.31 211.12,350.29 211.30,350.26 211.48,350.22 211.65,350.19 211.83,350.18 212.00,350.19 212.18,350.21 212.36,350.24 212.53,350.27 212.71,350.28 212.89,350.28 213.06,350.26 213.24,350.21 213.42,350.15 213.59,350.09 213.77,350.05 213.94,350.04 214.12,350.05 214.30,350.08 214.47,350.13 214.65,350.19 214.83,350.25 215.00,350.30 215.17,350.36 215.34,350.43 215.50,350.51 215.67,350.57 215.84,350.62 216.00,350.63 216.17,350.59 216.33,350.50 216.50,350.39 216.66,350.28 216.83,350.19 217.00,350.14 217.16,350.15 217.33,350.19 217.50,350.25 217.66,350.31 217.83,350.36 218.00,350.39 218.17,350.39 218.33,350.38 218.50,350.36 218.67,350.33 218.83,350.30 219.00,350.27 219.17,350.22 219.34,350.16 219.50,350.10 219.67,350.04 219.83,350.00 220.00,349.99 220.17,350.02 220.33,350.09 220.50,350.18 220.67,350.27 220.83,350.34 221.00,350.37 221.17,350.36 221.33,350.32 221.50,350.26 221.66,350.19 221.83,350.13 222.00,350.09 222.17,350.07 222.33,350.05 222.50,350.05 222.67,350.04 222.83,350.04 223.00,350.04 223.17,350.03 223.33,350.02 223.50,350.02 223.67,350.02 223.83,350.02 224.00,350.02 224.17,350.04 224.33,350.05 224.50,350.07 224.67,350.09 224.83,350.11 225.00,350.12 225.17,350.12 225.33,350.10 225.50,350.08 225.67,350.07 225.84,350.06 226.00,350.08 226.17,350.12 226.33,350.19 226.50,350.27 226.67,350.35 226.83,350.42 227.00,350.46 227.17,350.47 227.33,350.45 227.50,350.42 227.67,350.39 227.83,350.38 228.00,350.38 228.17,350.42 228.33,350.47 228.50,350.55 228.67,350.62 228.83,350.68 229.00,350.72 229.17,350.73 229.33,350.73 229.50,350.72 229.67,350.71 229.83,350.69 230.00,350.69 230.17,350.70 230.34,350.72 230.50,350.74 230.67,350.76 230.84,350.76 231.00,350.74 231.17,350.68 231.34,350.58 231.50,350.47 231.66,350.36 231.83,350.26 232.00,350.21 232.16,350.20 232.33,350.22 232.50,350.27 232.66,350.31 232.83,350.35 233.00,350.36 233.17,350.35 233.33,350.33 233.50,350.29 233.67,350.26 233.83,350.24 234.00,350.23 234.17,350.26 234.33,350.30 234.50,350.35 234.67,350.40 234.83,350.45 235.00,350.48 235.17,350.49 235.33,350.50 235.50,350.50 235.67,350.50 235.83,350.50 236.00,350.51 236.17,350.52 236.33,350.55 236.50,350.58 236.67,350.60 236.83,350.62 237.00,350.64 237.17,350.64 237.33,350.64 237.50,350.63 237.67,350.62 237.83,350.60 238.00,350.58 238.17,350.54 238.33,350.48 238.50,350.41 238.67,350.35 238.83,350.30 239.00,350.27 239.17,350.26 239.33,350.28 239.50,350.30 239.67,350.34 239.83,350.37 240.00,350.39 240.17,350.41 240.33,350.43 240.50,350.46 240.67,350.47 240.83,350.48 241.00,350.47 241.17,350.43 241.33,350.37 241.50,350.29 241.67,350.21 241.83,350.15 242.00,350.11 242.17,350.09 242.33,350.08 242.50,350.08 242.67,350.09 242.83,350.11 243.00,350.13 243.17,350.17 243.33,350.22 243.50,350.28 243.67,350.34 243.83,350.38 244.00,350.40 244.17,350.39 244.33,350.35 244.50,350.29 244.67,350.24 244.84,350.20 245.00,350.20 245.17,350.24 245.34,350.32 245.50,350.42 245.67,350.52 245.83,350.60 246.00,350.63 246.17,350.62 246.33,350.57 246.50,350.50 246.66,350.42 246.83,350.35 247.00,350.30 247.17,350.27 247.33,350.25 247.50,350.23 247.67,350.22 247.83,350.21 248.00,350.21 248.17,350.21 248.33,350.21 248.50,350.22 248.67,350.23 248.83,350.25 249.00,350.27 249.17,350.30 249.33,350.35 249.50,350.40 249.67,350.45 249.83,350.48 250.00,350.50 250.17,350.49 250.33,350.46 250.50,350.42 250.67,350.38 250.83,350.34 251.00,350.31 251.17,350.30 251.33,350.29 251.50,350.28 251.67,350.28 251.83,350.29 252.00,350.30 252.17,350.33 252.33,350.37 252.50,350.41 252.67,350.45 252.83,350.49 253.00,350.51 253.17,350.52 253.33,350.52 253.50,350.51 253.67,350.50 253.83,350.49 254.00,350.48 254.17,350.46 254.33,350.43 254.50,350.40 254.67,350.38 254.83,350.37 255.00,350.37 255.17,350.39 255.33,350.44 255.50,350.49 255.67,350.55 255.83,350.59 256.00,350.60 256.17,350.57 256.34,350.51 256.50,350.44 256.67,350.36 256.84,350.31 257.00,350.30 257.17,350.34 257.33,350.42 257.50,350.52 257.66,350.63 257.83,350.72 258.00,350.78 258.16,350.82 258.33,350.84 258.50,350.84 258.67,350.84 258.83,350.83 259.00,350.82 259.17,350.81 259.33,350.79 259.50,350.76 259.67,350.73 259.83,350.69 260.00,350.66 260.17,350.63 260.33,350.58 260.50,350.54 260.67,350.50 260.83,350.47 261.00,350.45 261.17,350.45 261.33,350.45 261.50,350.47 261.67,350.48 261.83,350.50 262.00,350.51 262.17,350.52 262.33,350.54 262.50,350.56 262.67,350.57 262.84,350.57 263.00,350.56 263.17,350.51 263.34,350.44 263.50,350.36 263.67,350.28 263.83,350.22 264.00,350.19 264.17,350.20 264.33,350.23 264.50,350.29 264.66,350.35 264.83,350.40 265.00,350.44 265.17,350.47 265.33,350.49 265.50,350.51 265.67,350.52 265.83,350.53 266.00,350.52 266.17,350.49 266.33,350.45 266.50,350.41 266.67,350.36 266.83,350.31 267.00,350.28 267.17,350.25 267.33,350.22 267.50,350.20 267.67,350.19 267.84,350.19 268.00,350.22 268.17,350.27 268.34,350.37 268.50,350.48 268.67,350.59 268.83,350.67 269.00,350.71 269.16,350.70 269.33,350.65 269.50,350.58 269.66,350.51 269.83,350.44 270.00,350.41 270.17,350.40 270.33,350.41 270.50,350.42 270.67,350.45 270.83,350.48 271.00,350.51 271.17,350.56 271.33,350.61 271.50,350.67 271.67,350.73 271.83,350.78 272.00,350.80 272.17,350.79 272.33,350.76 272.50,350.72 272.67,350.67 272.83,350.62 273.00,350.58 273.17,350.53 273.33,350.48 273.50,350.42 273.67,350.38 273.84,350.35 274.00,350.35 274.17,350.40 274.34,350.49 274.50,350.61 274.67,350.72 274.83,350.80 275.00,350.84 275.17,350.82 275.33,350.76 275.50,350.67 275.66,350.57 275.83,350.48 276.00,350.41 276.17,350.35 276.33,350.29 276.50,350.23 276.67,350.19 276.83,350.16 277.00,350.16 277.17,350.21 277.34,350.30 277.50,350.41 277.67,350.51 277.83,350.59 278.00,350.63 278.17,350.61 278.33,350.54 278.50,350.44 278.66,350.35 278.83,350.27 279.00,350.22 279.17,350.21 279.33,350.22 279.50,350.25 279.67,350.28 279.83,350.32 280.00,350.36 280.17,350.42 280.33,350.49 280.50,350.57 280.67,350.64 280.83,350.70 281.00,350.74 281.17,350.75 281.33,350.75 281.50,350.73 281.67,350.70 281.84,350.66 282.00,350.62 282.17,350.56 282.34,350.46 282.50,350.36 282.67,350.27 282.83,350.20 283.00,350.16 283.16,350.17 283.33,350.22 283.50,350.29 283.66,350.36 283.83,350.43 284.00,350.47 284.17,350.48 284.33,350.48 284.50,350.47 284.67,350.45 284.83,350.44 285.00,350.44 285.17,350.44 285.33,350.46 285.50,350.47 285.67,350.49 285.83,350.49 286.00,350.49 286.17,350.47 286.33,350.43 286.50,350.38 286.67,350.34 286.83,350.30 287.00,350.30 287.17,350.32 287.33,350.37 287.50,350.44 287.67,350.50 287.83,350.55 288.00,350.56 288.17,350.53 288.33,350.47 288.50,350.39 288.67,350.31 288.83,350.24 289.00,350.20 289.17,350.20 289.33,350.22 289.50,350.25 289.67,350.29 289.83,350.32 290.00,350.35 290.17,350.36 290.33,350.36 290.50,350.37 290.67,350.37 290.84,350.38 291.00,350.41 291.17,350.47 291.34,350.55 291.50,350.65 291.67,350.73 291.84,350.79 292.00,350.80 292.17,350.75 292.34,350.64 292.50,350.50 292.67,350.36 292.83,350.25 293.00,350.20 293.17,350.23 293.33,350.32 293.50,350.43 293.66,350.55 293.83,350.64 294.00,350.68 294.17,350.65 294.33,350.59 294.50,350.49 294.66,350.40 294.83,350.32 295.00,350.28 295.17,350.30 295.33,350.34 295.50,350.40 295.66,350.47 295.83,350.52 296.00,350.55 296.17,350.55 296.33,350.53 296.50,350.50 296.67,350.47 296.83,350.44 297.00,350.42 297.17,350.42 297.33,350.42 297.50,350.43 297.67,350.44 297.83,350.46 298.00,350.47 298.17,350.50 298.33,350.54 298.50,350.59 298.67,350.63 298.83,350.66 299.00,350.68 299.17,350.67 299.33,350.64 299.50,350.61 299.67,350.57 299.83,350.53 300.00,350.50 300.17,350.48 300.33,350.47 300.50,350.46 300.67,350.46 300.83,350.44 301.00,350.43 301.17,350.40 301.33,350.36 301.50,350.33 301.67,350.29 301.83,350.26 302.00,350.24 302.17,350.22 302.33,350.22 302.50,350.23 302.67,350.23 302.83,350.23 303.00,350.24 303.17,350.23 303.34,350.21 303.50,350.19 303.67,350.18 303.84,350.18 304.00,350.21 304.17,350.27 304.34,350.37 304.50,350.48 304.66,350.60 304.83,350.69 305.00,350.75 305.16,350.75 305.33,350.73 305.50,350.69 305.67,350.64 305.83,350.61 306.00,350.60 306.17,350.62 306.33,350.66 306.50,350.71 306.67,350.76 306.83,350.80 307.00,350.82 307.17,350.82 307.33,350.80 307.50,350.77 307.67,350.73 307.84,350.69 308.00,350.63 308.17,350.56 308.34,350.47 308.50,350.36 308.67,350.27 308.83,350.20 309.00,350.17 309.17,350.19 309.33,350.26 309.50,350.36 309.66,350.46 309.83,350.55 310.00,350.61 310.16,350.65 310.33,350.67 310.50,350.68 310.67,350.69 310.83,350.69 311.00,350.69 311.17,350.70 311.33,350.69 311.50,350.69 311.67,350.68 311.83,350.67 312.00,350.66 312.17,350.64 312.33,350.61 312.50,350.58 312.67,350.55 312.83,350.52 313.00,350.50 313.17,350.48 313.33,350.46 313.50,350.44 313.67,350.42 313.83,350.41 314.00,350.40 314.17,350.40 314.33,350.40 314.50,350.41 314.67,350.43 314.83,350.45 315.00,350.47 315.17,350.51 315.33,350.56 315.50,350.62 315.67,350.67 315.83,350.70 316.00,350.71 316.17,350.68 316.33,350.61 316.50,350.53 316.67,350.44 316.83,350.37 317.00,350.34 317.17,350.34 317.33,350.37 317.50,350.41 317.67,350.45 317.83,350.49 318.00,350.52 318.17,350.52 318.33,350.51 318.50,350.49 318.67,350.48 318.83,350.47 319.00,350.48 319.17,350.52 319.33,350.58 319.50,350.66 319.67,350.73 319.83,350.78 320.00,350.82 320.17,350.82 320.33,350.81 320.50,350.78 320.67,350.75 320.83,350.72 321.00,350.71 321.17,350.72 321.33,350.73 321.50,350.76 321.67,350.78 321.83,350.79 322.00,350.80 322.17,350.80 322.33,350.80 322.50,350.80 322.67,350.79 322.84,350.77 323.00,350.74 323.17,350.69 323.33,350.62 323.50,350.55 323.67,350.47 323.83,350.40 324.00,350.36 324.16,350.33 324.33,350.31 324.50,350.30 324.67,350.30 324.83,350.30 325.00,350.31 325.17,350.33 325.33,350.37 325.50,350.41 325.67,350.45 325.83,350.48 326.00,350.49 326.17,350.48 326.33,350.45 326.50,350.42 326.67,350.38 326.83,350.35 327.00,350.33 327.17,350.33 327.33,350.35 327.50,350.37 327.67,350.40 327.83,350.42 328.00,350.45 328.17,350.48 328.33,350.50 328.50,350.53 328.67,350.57 328.83,350.60 329.00,350.63 329.17,350.66 329.33,350.70 329.50,350.73 329.67,350.77 329.83,350.79 330.00,350.79 330.17,350.77 330.33,350.73 330.50,350.68 330.67,350.62 330.83,350.58 331.00,350.56 331.17,350.57 331.33,350.61 331.50,350.66 331.67,350.70 331.84,350.73 332.00,350.72 332.17,350.67 332.34,350.58 332.50,350.47 332.66,350.36 332.83,350.27 333.00,350.22 333.16,350.21 333.33,350.22 333.50,350.25 333.67,350.30 333.83,350.35 334.00,350.40 334.17,350.47 334.34,350.57 334.50,350.67 334.67,350.76 334.84,350.83 335.00,350.85 335.17,350.80 335.33,350.70 335.50,350.57 335.66,350.43 335.83,350.32 336.00,350.25 336.16,350.25 336.33,350.28 336.50,350.33 336.66,350.38 336.83,350.43 337.00,350.44 337.17,350.42 337.33,350.38 337.50,350.33 337.67,350.28 337.83,350.23 338.00,350.20 338.17,350.18 338.33,350.17 338.50,350.17 338.67,350.18 338.83,350.19 339.00,350.21 339.17,350.24 339.33,350.29 339.50,350.34 339.67,350.39 339.83,350.45 340.00,350.50 340.17,350.55 340.33,350.60 340.50,350.65 340.67,350.70 340.83,350.74 341.00,350.77 341.17,350.79 341.33,350.81 341.50,350.83 341.67,350.84 341.83,350.84 342.00,350.83 342.17,350.80 342.34,350.77 342.50,350.73 342.67,350.68 342.83,350.63 343.00,350.58 343.17,350.52 343.33,350.45 343.50,350.37 343.67,350.30 343.83,350.24 344.00,350.21 344.16,350.20 344.33,350.21 344.50,350.24 344.67,350.27 344.83,350.30 345.00,350.32 345.17,350.31 345.33,350.30 345.50,350.28 345.67,350.26 345.83,350.25 346.00,350.26 346.17,350.29 346.33,350.35 346.50,350.41 346.67,350.47 346.83,350.52 347.00,350.56 347.17,350.58 347.33,350.59 347.50,350.59 347.67,350.58 347.83,350.57 348.00,350.56 348.17,350.54 348.33,350.51 348.50,350.47 348.67,350.43 348.83,350.40 349.00,350.38 349.17,350.38 349.33,350.39 349.50,350.41 349.67,350.43 349.83,350.44 350.00,350.43 350.17,350.40 350.33,350.34 350.50,350.27 350.67,350.21 350.83,350.16 351.00,350.14 351.17,350.15 351.33,350.20 351.50,350.26 351.66,350.32 351.83,350.37 352.00,350.40 352.18,350.39 352.37,350.37 352.56,350.33 352.75,350.28 352.94,350.25 353.12,350.23 353.31,350.23 353.50,350.25 353.69,350.28 353.88,350.31 354.06,350.32 354.25,350.31 354.44,350.28 354.63,350.24 354.81,350.18 355.00,350.11 355.19,350.04 355.38,349.98 355.56,349.93 355.75,349.89 355.94,349.85 356.13,349.80 356.31,349.72 356.50,349.60 356.80,349.32 357.11,348.94 357.41,348.49 357.71,348.00 358.01,347.49 358.30,347.00 358.63,346.36 358.95,345.59 359.27,344.80 359.58,344.11 359.89,343.60 360.20,343.40 360.44,343.49 360.69,343.75 360.93,344.13 361.16,344.59 361.39,345.06 361.60,345.50 361.82,346.05 362.00,346.66 362.16,347.31 362.33,347.95 362.54,348.52 362.80,349.00 363.05,349.31 363.33,349.59 363.62,349.85 363.93,350.06 364.22,350.21 364.50,350.30 364.69,350.30 364.87,350.26 365.04,350.18 365.22,350.10 365.39,350.03 365.57,350.00 365.75,350.02 365.93,350.06 366.11,350.12 366.28,350.18 366.46,350.24 366.64,350.28 366.82,350.32 367.00,350.35 367.18,350.38 367.36,350.41 367.54,350.41 367.71,350.41 367.89,350.37 368.07,350.30 368.25,350.22 368.43,350.15 368.61,350.09 368.79,350.07 368.96,350.11 369.14,350.19 369.32,350.29 369.50,350.39 369.68,350.47 369.86,350.50 370.03,350.49 370.21,350.44 370.39,350.37 370.57,350.30 370.75,350.23 370.93,350.19 371.11,350.17 371.28,350.17 371.46,350.17 371.64,350.18 371.82,350.19 372.00,350.20 372.19,350.21 372.38,350.22 372.57,350.23 372.76,350.23 372.95,350.23 373.13,350.21 373.32,350.17 373.51,350.10 373.70,350.02 373.89,349.95 374.08,349.89 374.27,349.87 374.46,349.88 374.64,349.93 374.83,350.00 375.02,350.07 375.21,350.13 375.40,350.15 375.59,350.13 375.78,350.09 375.97,350.04 376.16,349.98 376.34,349.92 376.53,349.86 376.72,349.82 376.91,349.77 377.10,349.72 377.29,349.67 377.48,349.63 377.67,349.58 377.86,349.55 378.05,349.52 378.24,349.48 378.43,349.46 378.61,349.43 378.80,349.40 378.98,349.37 379.15,349.33 379.32,349.30 379.49,349.27 379.66,349.25 379.83,349.25 380.01,349.28 380.18,349.34 380.35,349.41 380.52,349.48 380.69,349.53 380.87,349.56 381.04,349.55 381.21,349.51 381.39,349.45 381.56,349.40 381.73,349.37 381.90,349.37 382.07,349.41 382.25,349.49 382.42,349.59 382.59,349.69 382.76,349.79 382.93,349.87 383.10,349.93 383.27,350.00 383.45,350.06 383.62,350.11 383.79,350.15 383.97,350.17 384.14,350.17 384.31,350.15 384.48,350.12 384.66,350.08 384.83,350.04 385.00,350.00 385.17,349.96 385.34,349.91 385.50,349.86 385.67,349.82 385.83,349.79 386.00,349.78 386.17,349.79 386.33,349.83 386.50,349.88 386.67,349.93 386.83,349.98 387.00,350.01 387.17,350.02 387.33,350.02 387.50,350.01 387.67,350.00 387.83,349.99 388.00,349.99 388.17,350.00 388.33,350.01 388.49,350.03 388.66,350.04 388.83,350.03 389.00,350.00 389.24,349.88 389.49,349.68 389.74,349.45 389.99,349.23 390.25,349.06 390.50,349.00 390.74,349.06 390.97,349.21 391.21,349.41 391.45,349.63 391.71,349.84 392.00,350.00 392.44,350.14 392.93,350.26 393.45,350.35 393.98,350.42 394.51,350.47 395.00,350.50 395.42,350.54 395.85,350.58 396.27,350.61 396.66,350.60 397.01,350.54 397.30,350.40 397.50,350.19 397.64,349.91 397.74,349.59 397.82,349.23 397.90,348.86 398.00,348.50 398.14,348.01 398.26,347.47 398.39,346.90 398.53,346.35 398.69,345.87 398.90,345.50 399.07,345.34 399.26,345.23 399.47,345.14 399.67,345.06 399.85,344.96 400.00,344.80 400.14,344.53 400.23,344.21 400.28,343.85 400.32,343.45 400.35,343.00 400.40,342.50 400.51,341.21 400.60,339.62 400.68,337.82 400.75,335.89 400.82,333.93 400.90,332.00 401.00,329.74 401.10,327.34 401.20,324.89 401.31,322.47 401.40,320.14 401.50,318.00 401.57,316.55 401.63,315.24 401.70,313.99 401.76,312.72 401.83,311.35 401.90,309.80 402.02,307.12 402.15,304.23 402.29,301.11 402.43,297.71 402.57,294.02 402.70,290.00 402.92,281.97 403.14,272.69 403.35,262.50 403.56,251.77 403.77,240.82 404.00,230.00 404.28,215.88 404.59,199.20 404.90,182.24 405.20,167.30 405.47,156.65 405.70,152.60 405.84,155.03 405.95,161.42 406.05,170.45 406.13,180.78 406.21,191.07 406.30,200.00 406.37,207.72 406.41,215.57 406.46,223.40 406.52,231.02 406.63,238.27 406.80,245.00 406.98,249.66 407.20,254.11 407.44,258.36 407.70,262.41 407.96,266.29 408.20,270.00 408.39,272.66 408.58,275.09 408.78,277.41 408.97,279.75 409.14,282.24 409.30,285.00 409.48,289.50 409.62,294.49 409.73,299.77 409.83,305.17 409.95,310.47 410.10,315.50 410.14,320.21 410.05,325.32 409.96,330.36 410.03,334.87 410.40,338.37 411.20,340.40 411.58,340.67 412.02,340.78 412.48,340.78 412.96,340.72 413.44,340.68 413.90,340.70 414.34,340.78 414.79,340.86 415.24,340.95 415.68,341.05 416.10,341.17 416.50,341.30 416.83,341.47 417.16,341.70 417.48,341.93 417.78,342.13 418.06,342.24 418.30,342.20 418.68,341.62 418.89,340.50 418.99,338.96 419.04,337.16 419.09,335.23 419.20,333.30 419.48,329.59 419.77,325.16 420.06,320.34 420.37,315.44 420.68,310.75 421.00,306.60 421.25,303.88 421.52,301.31 421.79,298.85 422.05,296.50 422.29,294.22 422.50,292.00 422.65,290.17 422.77,288.34 422.88,286.56 422.99,284.88 423.09,283.35 423.20,282.00 423.25,281.24 423.28,280.48 423.31,279.77 423.36,279.16 423.45,278.72 423.60,278.50 423.71,278.51 423.84,278.61 423.99,278.76 424.13,278.90 424.27,279.00 424.40,279.00 424.73,278.34 424.95,276.89 425.10,274.90 425.22,272.60 425.34,270.22 425.50,268.00 425.74,265.24 425.99,262.27 426.23,259.17 426.49,256.04 426.74,252.96 427.00,250.00 427.24,247.38 427.49,244.76 427.75,242.17 428.00,239.67 428.25,237.26 428.50,235.00 428.69,233.41 428.90,231.97 429.09,230.59 429.28,229.20 429.46,227.69 429.60,226.00 429.76,223.03 429.85,219.72 429.90,216.17 429.93,212.46 429.95,208.71 430.00,205.00 430.06,200.94 430.11,196.77 430.17,192.54 430.23,188.30 430.30,184.10 430.40,180.00 430.52,176.18 430.65,172.32 430.80,168.51 430.96,164.80 431.12,161.28 431.30,158.00 431.42,155.49 431.52,152.79 431.63,150.20 431.76,147.99 431.95,146.43 432.20,145.80 432.31,145.88 432.43,146.10 432.55,146.40 432.67,146.70 432.79,146.92 432.90,147.00 433.20,146.15 433.40,144.00 433.54,140.94 433.64,137.34 433.75,133.57 433.90,130.00 434.15,124.87 434.42,119.19 434.68,113.17 434.95,106.99 435.23,100.87 435.50,95.00 435.77,88.92 436.07,82.04 436.36,75.21 436.65,69.27 436.90,65.08 437.10,63.50 437.24,64.79 437.35,68.21 437.43,73.10 437.49,78.80 437.54,84.66 437.60,90.00 437.66,96.19 437.70,102.73 437.72,109.49 437.74,116.36 437.77,123.24 437.80,130.00 437.84,136.56 437.87,143.00 437.90,149.44 437.94,156.01 438.01,162.82 438.10,170.00 438.27,179.83 438.48,190.50 438.73,201.55 439.00,212.54 439.26,223.01 439.50,232.50 439.64,238.96 439.74,245.21 439.84,251.16 439.98,256.77 440.19,261.97 440.50,266.70 440.78,269.52 441.10,272.16 441.46,274.62 441.82,276.92 442.18,279.04 442.50,281.00 442.68,282.14 442.83,283.18 442.98,284.13 443.14,285.06 443.34,286.00 443.60,287.00 443.98,288.21 444.43,289.46 444.94,290.73 445.46,291.99 445.99,293.22 446.50,294.40 446.94,295.52 447.40,296.77 447.86,297.99 448.30,299.04 448.72,299.76 449.10,300.00 449.60,299.21 450.02,297.25 450.37,294.49 450.67,291.28 450.94,288.00 451.20,285.00 451.46,281.15 451.65,276.54 451.80,271.82 451.94,267.64 452.09,264.65 452.30,263.50 452.44,263.80 452.60,264.60 452.76,265.76 452.91,267.15 453.06,268.61 453.20,270.00 453.37,272.09 453.51,274.37 453.63,276.82 453.74,279.42 453.86,282.16 454.00,285.00 454.20,289.36 454.39,294.31 454.60,299.50 454.83,304.60 455.09,309.28 455.40,313.20 455.59,315.10 455.79,316.83 455.99,318.41 456.22,319.89 456.49,321.27 456.80,322.60 457.07,323.52 457.37,324.34 457.70,325.11 458.03,325.88 458.37,326.69 458.70,327.60 459.15,329.06 459.59,330.73 460.05,332.48 460.52,334.19 461.00,335.74 461.50,337.00 461.81,337.66 462.14,338.32 462.48,338.92 462.81,339.41 463.12,339.72 463.40,339.80 463.87,338.67 464.23,336.03 464.51,332.65 464.75,329.29 464.97,326.72 465.20,325.70 465.40,326.86 465.47,329.83 465.53,333.84 465.66,338.13 465.95,341.94 466.50,344.50 466.85,345.17 467.24,345.69 467.66,346.12 468.11,346.50 468.56,346.88 469.00,347.30 469.47,347.80 469.97,348.34 470.47,348.87 470.96,349.37 471.41,349.79 471.80,350.10 471.97,350.22 472.13,350.33 472.28,350.43 472.43,350.49 472.57,350.52 472.70,350.50 472.88,350.38 473.04,350.17 473.19,349.89 473.34,349.54 473.47,349.16 473.60,348.75 473.83,347.74 474.02,346.47 474.18,345.03 474.32,343.49 474.45,341.92 474.60,340.40 474.78,338.78 474.95,337.18 475.12,335.54 475.29,333.83 475.45,332.00 475.60,330.00 475.82,326.58 476.01,322.79 476.19,318.71 476.37,314.46 476.53,310.12 476.70,305.80 476.89,300.98 477.07,296.14 477.25,291.19 477.41,286.06 477.56,280.69 477.70,275.00 477.85,266.72 477.97,257.76 478.06,248.35 478.15,238.76 478.22,229.22 478.30,220.00 478.37,210.24 478.44,199.15 478.50,188.12 478.56,178.53 478.62,171.76 478.70,169.20 478.79,171.76 478.89,178.53 478.99,188.12 479.10,199.15 479.20,210.24 479.30,220.00 479.37,229.18 479.41,238.63 479.45,248.14 479.51,257.50 479.62,266.53 479.80,275.00 480.01,281.68 480.26,288.51 480.55,295.12 480.84,301.14 481.13,306.23 481.40,310.00 481.48,311.04 481.57,312.02 481.65,312.88 481.73,313.58 481.81,314.03 481.90,314.20 482.06,313.43 482.23,311.43 482.40,308.64 482.59,305.51 482.78,302.48 483.00,300.00 483.19,298.26 483.39,296.37 483.60,294.54 483.81,292.99 484.01,291.90 484.20,291.50 484.45,292.52 484.66,295.20 484.86,298.95 485.05,303.22 485.26,307.42 485.50,311.00 485.74,313.84 485.99,316.74 486.25,319.60 486.52,322.29 486.80,324.70 487.10,326.70 487.25,327.63 487.39,328.56 487.54,329.42 487.70,330.12 487.88,330.61 488.10,330.80 488.40,330.46 488.76,329.58 489.15,328.44 489.54,327.29 489.90,326.42 490.20,326.10 490.52,326.69 490.75,328.15 490.91,330.20 491.04,332.55 491.16,334.91 491.30,337.00 491.45,339.22 491.57,341.80 491.68,344.39 491.81,346.66 491.98,348.27 492.20,348.90 492.39,348.69 492.61,348.10 492.85,347.24 493.09,346.20 493.31,345.09 493.50,344.00 493.74,342.12 493.92,339.98 494.06,337.63 494.17,335.14 494.28,332.58 494.40,330.00 494.55,326.30 494.69,321.87 494.83,317.32 494.95,313.28 495.08,310.40 495.20,309.30 495.32,310.44 495.43,313.40 495.55,317.50 495.66,322.09 495.77,326.48 495.90,330.00 495.97,332.01 496.01,333.96 496.06,335.82 496.14,337.53 496.27,339.07 496.50,340.40 496.67,341.04 496.86,341.59 497.07,342.08 497.29,342.55 497.54,343.01 497.80,343.50 498.10,344.05 498.41,344.62 498.74,345.18 499.09,345.72 499.48,346.23 499.90,346.70 500.36,347.15 500.86,347.62 501.39,348.05 501.93,348.41 502.47,348.66 503.00,348.75 503.52,348.60 504.04,348.23 504.56,347.74 505.08,347.25 505.59,346.86 506.10,346.70 506.55,346.77 506.98,346.98 507.41,347.28 507.85,347.61 508.29,347.94 508.75,348.20 509.26,348.41 509.79,348.58 510.33,348.75 510.87,348.91 511.39,349.09 511.90,349.30 512.37,349.58 512.85,349.95 513.32,350.33 513.76,350.65 514.16,350.83 514.50,350.80 514.94,350.08 515.16,348.67 515.24,346.78 515.24,344.63 515.24,342.43 515.30,340.40 515.43,337.79 515.54,334.67 515.64,331.49 515.75,328.68 515.87,326.67 516.00,325.90 516.12,326.37 516.25,327.62 516.38,329.37 516.52,331.36 516.66,333.32 516.80,335.00 516.95,336.47 517.12,338.11 517.30,339.73 517.45,341.13 517.56,342.12 517.60,342.50"/>
<polyline stroke="#ff0000" points="43.00,318.70 43.26,318.75 43.93,318.89 44.88,319.07 45.96,319.27 47.05,319.46 48.00,319.60 48.79,319.70 49.53,319.78 50.28,319.84 51.07,319.90 51.96,319.95 53.00,320.00 55.76,320.08 59.16,320.13 62.99,320.15 67.05,320.16 71.12,320.17 75.00,320.20 78.89,320.26 82.90,320.35 86.93,320.45 90.87,320.52 94.59,320.54 98.00,320.50 100.21,320.42 102.25,320.30 104.17,320.17 106.06,320.01 107.98,319.85 110.00,319.70 112.36,319.50 114.82,319.25 117.31,319.00 119.79,318.77 122.20,318.63 124.50,318.60 126.37,318.69 128.21,318.87 129.99,319.10 131.72,319.36 133.39,319.60 135.00,319.80 136.20,319.94 137.29,320.08 138.33,320.21 139.42,320.33 140.61,320.43 142.00,320.50 145.22,320.55 149.17,320.50 153.50,320.39 157.83,320.24 161.78,320.06 165.00,319.90 166.43,319.83 167.73,319.78 168.91,319.72 170.00,319.64 171.03,319.50 172.00,319.30 172.69,319.12 173.33,318.95 173.94,318.74 174.51,318.48 175.06,318.14 175.60,317.70 176.36,316.62 177.05,315.06 177.70,313.33 178.32,311.72 178.92,310.55 179.50,310.10 180.02,310.60 180.50,311.84 180.96,313.44 181.42,315.05 181.89,316.29 182.40,316.80 182.91,316.39 183.44,315.33 183.99,313.93 184.55,312.52 185.12,311.44 185.70,311.00 186.34,311.40 186.98,312.44 187.64,313.85 188.32,315.38 189.04,316.75 189.80,317.70 190.36,318.11 190.93,318.44 191.51,318.70 192.12,318.89 192.75,319.02 193.40,319.10 194.22,319.07 195.09,318.88 195.99,318.61 196.90,318.34 197.81,318.14 198.70,318.10 199.56,318.25 200.40,318.54 201.22,318.91 202.08,319.30 203.00,319.65 204.00,319.90 205.51,320.08 207.08,320.15 208.77,320.14 210.63,320.08 212.69,320.02 215.00,320.00 220.77,320.00 227.84,319.97 235.76,319.93 244.07,319.89 252.30,319.84 260.00,319.80 266.87,319.77 273.72,319.74 280.51,319.70 287.18,319.67 293.69,319.64 300.00,319.60 305.29,319.56 310.45,319.51 315.50,319.46 320.43,319.42 325.26,319.39 330.00,319.40 334.37,319.49 338.96,319.65 343.48,319.84 347.61,319.97 351.05,319.98 353.50,319.80 354.04,319.71 354.48,319.62 354.86,319.51 355.18,319.38 355.49,319.22 355.80,319.00 356.14,318.69 356.44,318.33 356.72,317.92 356.98,317.47 357.24,317.00 357.50,316.50 357.84,315.75 358.16,314.87 358.47,313.95 358.79,313.04 359.13,312.24 359.50,311.60 359.75,311.28 360.01,310.98 360.27,310.72 360.54,310.51 360.82,310.36 361.10,310.30 361.40,310.34 361.71,310.47 362.03,310.68 362.35,310.93 362.68,311.21 363.00,311.50 363.43,311.94 363.85,312.48 364.28,313.07 364.72,313.66 365.19,314.22 365.70,314.70 366.25,315.12 366.82,315.52 367.42,315.89 368.06,316.20 368.71,316.45 369.40,316.60 370.28,316.64 371.23,316.53 372.23,316.33 373.22,316.08 374.16,315.82 375.00,315.60 375.54,315.43 376.03,315.21 376.49,314.99 376.94,314.80 377.40,314.69 377.90,314.70 378.63,314.95 379.39,315.43 380.17,316.05 380.96,316.73 381.74,317.37 382.50,317.90 383.14,318.30 383.78,318.70 384.40,319.08 385.03,319.41 385.66,319.66 386.30,319.80 386.92,319.79 387.54,319.65 388.17,319.45 388.80,319.23 389.41,319.06 390.00,319.00 390.51,319.06 391.01,319.19 391.50,319.37 391.98,319.55 392.45,319.70 392.90,319.80 393.27,319.86 393.65,319.93 394.01,319.98 394.36,319.99 394.69,319.94 395.00,319.80 395.40,319.41 395.75,318.82 396.06,318.10 396.35,317.32 396.63,316.53 396.90,315.80 397.17,315.16 397.42,314.56 397.66,313.95 397.89,313.31 398.10,312.60 398.30,311.80 398.59,310.18 398.82,308.27 399.01,306.19 399.18,304.03 399.34,301.90 399.50,299.90 399.65,298.26 399.79,296.73 399.92,295.23 400.05,293.66 400.17,291.95 400.30,290.00 400.52,286.06 400.73,281.58 400.93,276.66 401.13,271.36 401.32,265.78 401.50,260.00 401.74,251.09 401.96,241.21 402.17,230.75 402.37,220.12 402.58,209.74 402.80,200.00 403.01,191.97 403.23,184.03 403.46,176.28 403.68,168.79 403.90,161.67 404.10,155.00 404.24,150.35 404.37,145.92 404.50,141.70 404.63,137.66 404.76,133.76 404.90,130.00 405.01,126.74 405.13,123.18 405.25,119.72 405.36,116.75 405.48,114.68 405.60,113.90 405.72,114.68 405.84,116.75 405.96,119.72 406.08,123.18 406.19,126.74 406.30,130.00 406.42,133.76 406.52,137.66 406.61,141.70 406.70,145.92 406.79,150.35 406.90,155.00 407.07,161.71 407.25,168.94 407.45,176.53 407.65,184.34 407.83,192.21 408.00,200.00 408.16,208.33 408.30,216.94 408.42,225.63 408.55,234.18 408.67,242.37 408.80,250.00 408.88,255.50 408.94,260.76 409.00,265.80 409.08,270.67 409.20,275.39 409.40,280.00 409.62,283.94 409.87,287.93 410.16,291.81 410.47,295.44 410.82,298.66 411.20,301.30 411.39,302.46 411.59,303.60 411.80,304.64 412.01,305.50 412.25,306.08 412.50,306.30 412.83,305.92 413.19,304.92 413.58,303.54 413.98,302.02 414.39,300.59 414.80,299.50 415.08,298.97 415.36,298.50 415.65,298.08 415.94,297.67 416.23,297.29 416.50,296.90 416.73,296.60 416.96,296.33 417.18,296.07 417.40,295.80 417.61,295.48 417.80,295.10 418.10,294.21 418.35,293.12 418.57,291.89 418.76,290.58 418.93,289.27 419.10,288.00 419.27,286.74 419.42,285.51 419.55,284.26 419.67,282.95 419.78,281.55 419.90,280.00 420.08,277.24 420.24,274.15 420.38,270.82 420.52,267.30 420.66,263.67 420.80,260.00 420.98,255.35 421.15,250.45 421.33,245.38 421.49,240.23 421.65,235.07 421.80,230.00 421.92,224.85 422.00,219.53 422.08,214.20 422.17,209.06 422.30,204.26 422.50,200.00 422.67,197.28 422.87,194.43 423.08,191.73 423.30,189.45 423.53,187.89 423.75,187.30 423.92,187.68 424.09,188.68 424.26,190.12 424.44,191.78 424.62,193.47 424.80,195.00 425.02,196.87 425.25,199.08 425.48,201.34 425.71,203.33 425.96,204.75 426.20,205.30 426.41,204.91 426.61,203.87 426.82,202.42 427.03,200.81 427.26,199.26 427.50,198.00 427.69,197.17 427.88,196.29 428.08,195.44 428.29,194.72 428.51,194.21 428.75,194.00 428.94,194.13 429.14,194.50 429.35,194.99 429.56,195.49 429.78,195.86 430.00,196.00 430.36,195.77 430.75,195.20 431.15,194.35 431.54,193.31 431.90,192.17 432.20,191.00 432.63,188.40 432.87,185.24 433.00,181.66 433.06,177.83 433.11,173.89 433.20,170.00 433.35,165.40 433.47,160.68 433.58,155.81 433.68,150.76 433.79,145.50 433.90,140.00 434.06,132.25 434.23,123.80 434.40,115.00 434.57,106.20 434.74,97.75 434.90,90.00 435.02,84.53 435.13,79.33 435.24,74.35 435.36,69.52 435.47,64.75 435.60,60.00 435.72,55.61 435.84,51.22 435.97,46.89 436.10,42.70 436.25,38.71 436.40,35.00 436.52,32.16 436.66,29.11 436.80,26.18 436.93,23.68 437.07,21.95 437.20,21.30 437.33,21.95 437.45,23.69 437.57,26.18 437.69,29.12 437.80,32.16 437.90,35.00 438.01,38.73 438.11,42.78 438.19,47.03 438.26,51.39 438.33,55.75 438.40,60.00 438.47,64.10 438.53,68.12 438.59,72.13 438.66,76.23 438.72,80.49 438.80,85.00 438.91,91.10 439.04,97.55 439.18,104.27 439.32,111.15 439.46,118.09 439.60,125.00 439.75,132.32 439.91,139.72 440.08,147.19 440.24,154.73 440.38,162.33 440.50,170.00 440.58,178.42 440.60,187.23 440.62,196.12 440.65,204.76 440.73,212.83 440.90,220.00 441.04,224.23 441.17,228.21 441.33,231.94 441.53,235.43 441.81,238.68 442.20,241.70 442.53,243.63 442.91,245.44 443.32,247.13 443.76,248.73 444.22,250.25 444.70,251.70 445.10,252.81 445.52,253.90 445.96,254.93 446.40,255.90 446.82,256.76 447.20,257.50 447.40,257.89 447.59,258.29 447.78,258.66 447.96,258.96 448.13,259.15 448.30,259.20 448.62,258.71 448.90,257.53 449.14,255.87 449.37,253.92 449.58,251.90 449.80,250.00 450.09,247.12 450.35,243.57 450.59,239.88 450.83,236.58 451.06,234.21 451.30,233.30 451.46,233.61 451.61,234.45 451.77,235.67 451.92,237.10 452.07,238.59 452.20,240.00 452.36,241.92 452.49,243.98 452.60,246.16 452.72,248.46 452.85,250.84 453.00,253.30 453.22,256.66 453.46,260.29 453.71,264.08 454.00,267.87 454.33,271.56 454.70,275.00 455.05,277.71 455.44,280.34 455.85,282.90 456.29,285.37 456.74,287.74 457.20,290.00 457.57,291.71 457.95,293.35 458.33,294.92 458.73,296.44 459.15,297.93 459.60,299.40 460.02,300.72 460.44,302.03 460.88,303.30 461.34,304.55 461.85,305.75 462.40,306.90 462.97,307.92 463.60,308.90 464.26,309.85 464.93,310.76 465.58,311.65 466.20,312.50 466.69,313.18 467.17,313.82 467.64,314.45 468.10,315.06 468.56,315.67 469.00,316.30 469.43,316.96 469.85,317.67 470.27,318.39 470.67,319.05 471.05,319.61 471.40,320.00 471.54,320.13 471.68,320.25 471.81,320.35 471.94,320.41 472.07,320.43 472.20,320.40 472.66,319.69 473.10,318.16 473.52,316.06 473.91,313.64 474.28,311.14 474.60,308.80 474.94,306.04 475.22,303.21 475.45,300.26 475.64,297.11 475.82,293.71 476.00,290.00 476.28,283.12 476.51,275.33 476.70,266.87 476.87,257.99 477.03,248.95 477.20,240.00 477.40,228.42 477.58,214.76 477.75,200.90 477.93,188.70 478.11,180.01 478.30,176.70 478.49,179.54 478.69,186.98 478.89,197.39 479.10,209.11 479.30,220.53 479.50,230.00 479.65,236.32 479.79,242.40 479.94,248.28 480.08,253.99 480.23,259.55 480.40,265.00 480.55,270.16 480.71,275.88 480.88,281.49 481.05,286.33 481.23,289.72 481.40,291.00 481.57,289.69 481.73,286.24 481.90,281.35 482.07,275.71 482.27,270.03 482.50,265.00 482.79,259.52 483.13,253.15 483.50,246.74 483.86,241.11 484.21,237.12 484.50,235.60 484.70,236.54 484.88,239.04 485.04,242.61 485.19,246.78 485.35,251.07 485.50,255.00 485.67,259.74 485.80,264.88 485.93,270.21 486.08,275.49 486.30,280.49 486.60,285.00 486.89,287.99 487.21,290.88 487.57,293.63 487.95,296.20 488.33,298.53 488.70,300.60 488.92,301.65 489.13,302.55 489.36,303.37 489.57,304.17 489.79,305.03 490.00,306.00 490.23,307.73 490.40,309.84 490.56,312.04 490.77,314.07 491.10,315.64 491.60,316.50 491.89,316.60 492.22,316.59 492.57,316.48 492.93,316.32 493.28,316.15 493.60,316.00 493.88,315.86 494.14,315.69 494.40,315.50 494.65,315.31 494.92,315.14 495.20,315.00 495.53,314.86 495.88,314.70 496.25,314.57 496.61,314.47 496.97,314.44 497.30,314.50 497.68,314.73 498.04,315.10 498.39,315.58 498.72,316.10 499.06,316.63 499.40,317.10 499.74,317.56 500.08,318.05 500.42,318.54 500.76,319.00 501.12,319.39 501.50,319.70 501.82,319.88 502.16,320.03 502.50,320.13 502.85,320.20 503.18,320.22 503.50,320.20 503.78,320.12 504.05,319.97 504.30,319.79 504.56,319.59 504.82,319.38 505.10,319.20 505.43,318.99 505.78,318.74 506.14,318.49 506.50,318.28 506.85,318.14 507.20,318.10 507.55,318.20 507.90,318.43 508.24,318.73 508.58,319.07 508.93,319.41 509.30,319.70 509.71,320.00 510.14,320.32 510.59,320.63 511.03,320.92 511.47,321.13 511.90,321.25 512.26,321.26 512.61,321.19 512.96,321.08 513.31,320.94 513.65,320.81 514.00,320.70 514.34,320.61 514.67,320.50 515.00,320.40 515.34,320.31 515.67,320.24 516.00,320.20 516.36,320.20 516.77,320.23 517.19,320.28 517.55,320.34 517.80,320.38 517.90,320.40"/>
</g>
<rect x="43" y="9.2" width="489" height="393.8" fill="none" stroke="#000" stroke-width="2"/>
<g stroke="#000" stroke-width="1.8"><line x1="43.00" y1="403" x2="43.00" y2="410.5"/><line x1="112.86" y1="403" x2="112.86" y2="410.5"/><line x1="182.71" y1="403" x2="182.71" y2="410.5"/><line x1="252.57" y1="403" x2="252.57" y2="410.5"/><line x1="322.43" y1="403" x2="322.43" y2="410.5"/><line x1="392.29" y1="403" x2="392.29" y2="410.5"/><line x1="462.14" y1="403" x2="462.14" y2="410.5"/><line x1="532.00" y1="403" x2="532.00" y2="410.5"/><line x1="77.93" y1="403" x2="77.93" y2="407"/><line x1="147.79" y1="403" x2="147.79" y2="407"/><line x1="217.64" y1="403" x2="217.64" y2="407"/><line x1="287.50" y1="403" x2="287.50" y2="407"/><line x1="357.36" y1="403" x2="357.36" y2="407"/><line x1="427.21" y1="403" x2="427.21" y2="407"/><line x1="497.07" y1="403" x2="497.07" y2="407"/></g>
<g font-size="16.8" transform="translate(0,428.6) scale(1,1.05) translate(0,-428.6)"><text x="43.00" y="428.6" text-anchor="middle">4000</text><text x="112.86" y="428.6" text-anchor="middle">3500</text><text x="182.71" y="428.6" text-anchor="middle">3000</text><text x="252.57" y="428.6" text-anchor="middle">2500</text><text x="322.43" y="428.6" text-anchor="middle">2000</text><text x="392.29" y="428.6" text-anchor="middle">1500</text><text x="462.14" y="428.6" text-anchor="middle">1000</text><text x="532.00" y="428.6" text-anchor="middle">500</text></g>
<text x="203.3" y="465.6" font-size="20.5">Wave number / cm</text><text x="358" y="457.2" font-size="13.5">−</text><text x="365.5" y="456.6" font-size="15">1</text>
<text transform="translate(25.9,205.6) rotate(-90)" text-anchor="middle" font-size="20.5">Absorbance</text>
<g stroke-width="1.5">
<line x1="63.5" y1="48.1" x2="110.5" y2="48.1" stroke="#000"/>
<line x1="63.5" y1="75.9" x2="110.5" y2="75.9" stroke="#0000ff"/>
<line x1="63.5" y1="104.2" x2="110.5" y2="104.2" stroke="#ff0000"/>
</g>
<g font-size="20.5">
<text x="115.8" y="54.5">Pristine PVDF</text>
<text x="115.8" y="82.5">PVDF-g-PEGMA (DG=8.9%)</text>
<text x="115.8" y="110.5">PVDF-g-PEGMGA (DG=10.1%)</text>
</g>
<g font-size="16.8">
<text x="73.6" y="291.9" transform="translate(0,291.9) scale(1,1.07) translate(0,-291.9)">3300–3600cm</text>
<text x="284.5" y="283.6" transform="translate(0,283.6) scale(1,1.03) translate(0,-283.6)">1712cm</text>
<text x="337.5" y="258.9" transform="translate(0,258.9) scale(1,1.07) translate(0,-258.9)">1610cm</text>
</g>
<g font-size="10.5">
<text x="170.2" y="283.9">−1</text>
<text x="338.3" y="276.3">−1</text>
<text x="390.5" y="252.7">−1</text>
</g>
<g stroke="#000" stroke-width="1.5" fill="none">
<line x1="97.8" y1="302.8" x2="142" y2="302.8" stroke-dasharray="7.5 7.6"/>
<line x1="142" y1="388.4" x2="142" y2="302.8" stroke-dasharray="7.5 7.6"/>
<line x1="97.8" y1="302.8" x2="97.8" y2="388.4" stroke-dasharray="7.5 7.6"/>
<line x1="97.8" y1="388.4" x2="142" y2="388.4" stroke-dasharray="7.5 7.6" stroke-dashoffset="2"/>
</g>
<g stroke="#000" stroke-width="1.5" fill="#000">
<line x1="377.4" y1="267" x2="377.4" y2="303"/>
<polygon points="374.2,301.5 380.5,301.5 377.4,314.1" stroke="none"/>
<line x1="328.3" y1="287.4" x2="352" y2="303"/>
<polygon points="349.8,305.3 353,299.9 361.3,309.6" stroke="none"/>
</g>
</svg>
</body></html>
